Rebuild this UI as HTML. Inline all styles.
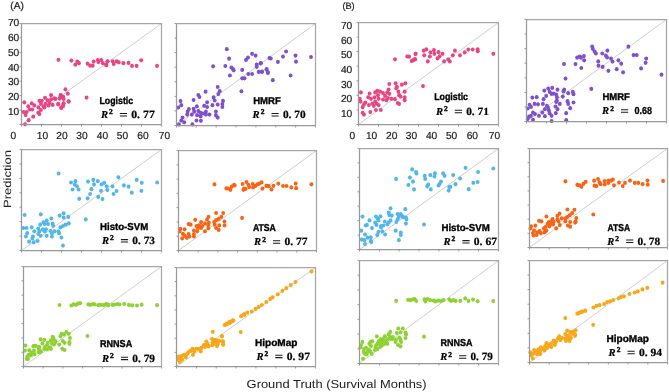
<!DOCTYPE html><html><head><meta charset="utf-8"><style>html,body{margin:0;padding:0;background:#fff;overflow:hidden}svg{display:block;will-change:transform}text{font-family:"Liberation Sans",sans-serif;text-rendering:geometricPrecision}.s{font-family:"Liberation Serif",serif}</style></head><body>
<svg width="669" height="392" viewBox="0 0 669 392">
<rect width="669" height="392" fill="#fff"/>
<line x1="21.5" y1="124.5" x2="161.5" y2="23.5" stroke="#b4b4b4" stroke-width="0.65"/>
<line x1="176.5" y1="125.5" x2="315.5" y2="23.5" stroke="#b4b4b4" stroke-width="0.65"/>
<line x1="21.5" y1="250.5" x2="161.5" y2="149.5" stroke="#b4b4b4" stroke-width="0.65"/>
<line x1="178.5" y1="250.5" x2="316.5" y2="150.5" stroke="#b4b4b4" stroke-width="0.65"/>
<line x1="23.5" y1="366.5" x2="161.5" y2="266.5" stroke="#b4b4b4" stroke-width="0.65"/>
<line x1="176.5" y1="366.5" x2="315.5" y2="267.5" stroke="#b4b4b4" stroke-width="0.65"/>
<line x1="358.5" y1="124.5" x2="498.5" y2="22.5" stroke="#b4b4b4" stroke-width="0.65"/>
<line x1="526.5" y1="121.5" x2="666.5" y2="19.5" stroke="#b4b4b4" stroke-width="0.65"/>
<line x1="359.5" y1="249.5" x2="498.5" y2="148.5" stroke="#b4b4b4" stroke-width="0.65"/>
<line x1="529.5" y1="247.5" x2="667.5" y2="148.5" stroke="#b4b4b4" stroke-width="0.65"/>
<line x1="359.5" y1="363.5" x2="498.5" y2="260.5" stroke="#b4b4b4" stroke-width="0.65"/>
<line x1="529.5" y1="362.5" x2="667.5" y2="260.5" stroke="#b4b4b4" stroke-width="0.65"/>
<g fill="#e84584"><ellipse cx="65.4" cy="89.3" rx="1.95" ry="2.1"/><ellipse cx="67.8" cy="93.7" rx="1.95" ry="2.1"/><ellipse cx="68.5" cy="101.3" rx="1.95" ry="2.1"/><ellipse cx="24.3" cy="102.3" rx="1.95" ry="2.1"/><ellipse cx="60.8" cy="95" rx="1.95" ry="2.1"/><ellipse cx="62.9" cy="97.2" rx="1.95" ry="2.1"/><ellipse cx="59.8" cy="98.3" rx="1.95" ry="2.1"/><ellipse cx="58.3" cy="103.9" rx="1.95" ry="2.1"/><ellipse cx="63.4" cy="103.4" rx="1.95" ry="2.1"/><ellipse cx="62.9" cy="105.9" rx="1.95" ry="2.1"/><ellipse cx="61.3" cy="108" rx="1.95" ry="2.1"/><ellipse cx="51.1" cy="95.2" rx="1.95" ry="2.1"/><ellipse cx="54.2" cy="98.3" rx="1.95" ry="2.1"/><ellipse cx="51.1" cy="99.3" rx="1.95" ry="2.1"/><ellipse cx="45" cy="97.8" rx="1.95" ry="2.1"/><ellipse cx="47.6" cy="100.3" rx="1.95" ry="2.1"/><ellipse cx="39.4" cy="100.8" rx="1.95" ry="2.1"/><ellipse cx="41.9" cy="100.8" rx="1.95" ry="2.1"/><ellipse cx="49.6" cy="102.9" rx="1.95" ry="2.1"/><ellipse cx="52.7" cy="104.9" rx="1.95" ry="2.1"/><ellipse cx="45.5" cy="103.9" rx="1.95" ry="2.1"/><ellipse cx="43.5" cy="106.4" rx="1.95" ry="2.1"/><ellipse cx="40.9" cy="103.9" rx="1.95" ry="2.1"/><ellipse cx="31.7" cy="103.4" rx="1.95" ry="2.1"/><ellipse cx="34.3" cy="105.4" rx="1.95" ry="2.1"/><ellipse cx="28.2" cy="106.4" rx="1.95" ry="2.1"/><ellipse cx="32.2" cy="109.5" rx="1.95" ry="2.1"/><ellipse cx="38.4" cy="107.4" rx="1.95" ry="2.1"/><ellipse cx="40.9" cy="110" rx="1.95" ry="2.1"/><ellipse cx="38.4" cy="112.6" rx="1.95" ry="2.1"/><ellipse cx="39.4" cy="114.1" rx="1.95" ry="2.1"/><ellipse cx="23.6" cy="112" rx="1.95" ry="2.1"/><ellipse cx="26.6" cy="112" rx="1.95" ry="2.1"/><ellipse cx="25.6" cy="115.1" rx="1.95" ry="2.1"/><ellipse cx="29.7" cy="109.5" rx="1.95" ry="2.1"/><ellipse cx="33.3" cy="116.6" rx="1.95" ry="2.1"/><ellipse cx="28.7" cy="120.2" rx="1.95" ry="2.1"/><ellipse cx="25.1" cy="124.3" rx="1.95" ry="2.1"/><ellipse cx="44.5" cy="107.4" rx="1.95" ry="2.1"/><ellipse cx="48.6" cy="105.4" rx="1.95" ry="2.1"/><ellipse cx="58.5" cy="59.8" rx="1.95" ry="2.1"/><ellipse cx="71.4" cy="60.6" rx="1.95" ry="2.1"/><ellipse cx="75.3" cy="64.7" rx="1.95" ry="2.1"/><ellipse cx="77.3" cy="61.6" rx="1.95" ry="2.1"/><ellipse cx="78.9" cy="63.2" rx="1.95" ry="2.1"/><ellipse cx="87.6" cy="63.7" rx="1.95" ry="2.1"/><ellipse cx="90.1" cy="65.7" rx="1.95" ry="2.1"/><ellipse cx="92.7" cy="65.7" rx="1.95" ry="2.1"/><ellipse cx="93.7" cy="61.6" rx="1.95" ry="2.1"/><ellipse cx="97.8" cy="60.1" rx="1.95" ry="2.1"/><ellipse cx="98.3" cy="62.1" rx="1.95" ry="2.1"/><ellipse cx="101.3" cy="60.1" rx="1.95" ry="2.1"/><ellipse cx="102.9" cy="63.2" rx="1.95" ry="2.1"/><ellipse cx="106.4" cy="65.2" rx="1.95" ry="2.1"/><ellipse cx="107.4" cy="61.6" rx="1.95" ry="2.1"/><ellipse cx="106.2" cy="64.9" rx="1.95" ry="2.1"/><ellipse cx="107.6" cy="61.3" rx="1.95" ry="2.1"/><ellipse cx="112.7" cy="61.3" rx="1.95" ry="2.1"/><ellipse cx="113.7" cy="63.9" rx="1.95" ry="2.1"/><ellipse cx="116.7" cy="61.3" rx="1.95" ry="2.1"/><ellipse cx="118.8" cy="62.3" rx="1.95" ry="2.1"/><ellipse cx="123.4" cy="63.2" rx="1.95" ry="2.1"/><ellipse cx="128.5" cy="62.9" rx="1.95" ry="2.1"/><ellipse cx="132" cy="65.9" rx="1.95" ry="2.1"/><ellipse cx="136.6" cy="65.9" rx="1.95" ry="2.1"/><ellipse cx="141.2" cy="60.3" rx="1.95" ry="2.1"/><ellipse cx="157" cy="65.9" rx="1.95" ry="2.1"/><ellipse cx="86.6" cy="97.6" rx="1.95" ry="2.1"/><ellipse cx="60.6" cy="95.3" rx="1.95" ry="2.1"/><ellipse cx="63.2" cy="96.8" rx="1.95" ry="2.1"/><ellipse cx="59.6" cy="98.4" rx="1.95" ry="2.1"/><ellipse cx="63.7" cy="98.9" rx="1.95" ry="2.1"/><ellipse cx="55.5" cy="98.9" rx="1.95" ry="2.1"/><ellipse cx="68.8" cy="101.6" rx="1.95" ry="2.1"/><ellipse cx="58.1" cy="104.3" rx="1.95" ry="2.1"/><ellipse cx="63.7" cy="103.5" rx="1.95" ry="2.1"/><ellipse cx="63.2" cy="106" rx="1.95" ry="2.1"/><ellipse cx="61.1" cy="107.6" rx="1.95" ry="2.1"/></g>
<g fill="#7f50cc"><ellipse cx="217.7" cy="87" rx="1.95" ry="2.1"/><ellipse cx="219.7" cy="91.2" rx="1.95" ry="2.1"/><ellipse cx="218.3" cy="94.1" rx="1.95" ry="2.1"/><ellipse cx="205.6" cy="91.7" rx="1.95" ry="2.1"/><ellipse cx="198.3" cy="95" rx="1.95" ry="2.1"/><ellipse cx="199.5" cy="97" rx="1.95" ry="2.1"/><ellipse cx="213.6" cy="97.4" rx="1.95" ry="2.1"/><ellipse cx="214.7" cy="100.5" rx="1.95" ry="2.1"/><ellipse cx="223" cy="100.9" rx="1.95" ry="2.1"/><ellipse cx="222.4" cy="104.1" rx="1.95" ry="2.1"/><ellipse cx="222.4" cy="107" rx="1.95" ry="2.1"/><ellipse cx="193.6" cy="100" rx="1.95" ry="2.1"/><ellipse cx="180.5" cy="101.1" rx="1.95" ry="2.1"/><ellipse cx="181.3" cy="105.2" rx="1.95" ry="2.1"/><ellipse cx="178.3" cy="107.6" rx="1.95" ry="2.1"/><ellipse cx="207.1" cy="102.3" rx="1.95" ry="2.1"/><ellipse cx="212.4" cy="105.2" rx="1.95" ry="2.1"/><ellipse cx="217.7" cy="104.6" rx="1.95" ry="2.1"/><ellipse cx="204.2" cy="105.8" rx="1.95" ry="2.1"/><ellipse cx="207.1" cy="107" rx="1.95" ry="2.1"/><ellipse cx="196.9" cy="106.4" rx="1.95" ry="2.1"/><ellipse cx="193.6" cy="108.8" rx="1.95" ry="2.1"/><ellipse cx="188.9" cy="109.1" rx="1.95" ry="2.1"/><ellipse cx="194.2" cy="111.7" rx="1.95" ry="2.1"/><ellipse cx="187.7" cy="111.7" rx="1.95" ry="2.1"/><ellipse cx="187.2" cy="114.6" rx="1.95" ry="2.1"/><ellipse cx="191.8" cy="114.6" rx="1.95" ry="2.1"/><ellipse cx="198.3" cy="111.1" rx="1.95" ry="2.1"/><ellipse cx="200.6" cy="112.9" rx="1.95" ry="2.1"/><ellipse cx="203" cy="113.5" rx="1.95" ry="2.1"/><ellipse cx="205.9" cy="111.7" rx="1.95" ry="2.1"/><ellipse cx="205.9" cy="114.6" rx="1.95" ry="2.1"/><ellipse cx="209.5" cy="114.6" rx="1.95" ry="2.1"/><ellipse cx="197.1" cy="115.2" rx="1.95" ry="2.1"/><ellipse cx="200.6" cy="116.4" rx="1.95" ry="2.1"/><ellipse cx="215.9" cy="111.5" rx="1.95" ry="2.1"/><ellipse cx="215.9" cy="115.2" rx="1.95" ry="2.1"/><ellipse cx="217.7" cy="117.6" rx="1.95" ry="2.1"/><ellipse cx="182.5" cy="117.6" rx="1.95" ry="2.1"/><ellipse cx="181.3" cy="120.5" rx="1.95" ry="2.1"/><ellipse cx="184.2" cy="122.3" rx="1.95" ry="2.1"/><ellipse cx="178.9" cy="124.4" rx="1.95" ry="2.1"/><ellipse cx="196.5" cy="120.5" rx="1.95" ry="2.1"/><ellipse cx="200.9" cy="120.8" rx="1.95" ry="2.1"/><ellipse cx="192.4" cy="124.4" rx="1.95" ry="2.1"/><ellipse cx="226.8" cy="49.2" rx="1.95" ry="2.1"/><ellipse cx="229.1" cy="58.7" rx="1.95" ry="2.1"/><ellipse cx="213.1" cy="66.3" rx="1.95" ry="2.1"/><ellipse cx="225.3" cy="66" rx="1.95" ry="2.1"/><ellipse cx="231.4" cy="67.6" rx="1.95" ry="2.1"/><ellipse cx="233" cy="69.1" rx="1.95" ry="2.1"/><ellipse cx="233.7" cy="70.3" rx="1.95" ry="2.1"/><ellipse cx="229.9" cy="75.5" rx="1.95" ry="2.1"/><ellipse cx="242.2" cy="69.9" rx="1.95" ry="2.1"/><ellipse cx="246" cy="59.9" rx="1.95" ry="2.1"/><ellipse cx="248" cy="57.6" rx="1.95" ry="2.1"/><ellipse cx="252.1" cy="53.8" rx="1.95" ry="2.1"/><ellipse cx="255.6" cy="55.6" rx="1.95" ry="2.1"/><ellipse cx="256.7" cy="64.5" rx="1.95" ry="2.1"/><ellipse cx="256.7" cy="66.8" rx="1.95" ry="2.1"/><ellipse cx="260.5" cy="63.3" rx="1.95" ry="2.1"/><ellipse cx="248.3" cy="74" rx="1.95" ry="2.1"/><ellipse cx="252.1" cy="74" rx="1.95" ry="2.1"/><ellipse cx="242.2" cy="78.3" rx="1.95" ry="2.1"/><ellipse cx="244.5" cy="78.3" rx="1.95" ry="2.1"/><ellipse cx="258.7" cy="71.9" rx="1.95" ry="2.1"/><ellipse cx="262.1" cy="71.9" rx="1.95" ry="2.1"/><ellipse cx="266.7" cy="69.1" rx="1.95" ry="2.1"/><ellipse cx="267.9" cy="72.2" rx="1.95" ry="2.1"/><ellipse cx="269.4" cy="58.1" rx="1.95" ry="2.1"/><ellipse cx="241.4" cy="91.3" rx="1.95" ry="2.1"/><ellipse cx="286.1" cy="51.5" rx="1.95" ry="2.1"/><ellipse cx="283" cy="56.6" rx="1.95" ry="2.1"/><ellipse cx="270.8" cy="58.5" rx="1.95" ry="2.1"/><ellipse cx="277.9" cy="61.9" rx="1.95" ry="2.1"/><ellipse cx="295.5" cy="55.6" rx="1.95" ry="2.1"/><ellipse cx="296" cy="61.7" rx="1.95" ry="2.1"/><ellipse cx="311" cy="57" rx="1.95" ry="2.1"/><ellipse cx="261" cy="63.2" rx="1.95" ry="2.1"/><ellipse cx="261.9" cy="71.6" rx="1.95" ry="2.1"/><ellipse cx="266.4" cy="69.6" rx="1.95" ry="2.1"/><ellipse cx="267.9" cy="72.9" rx="1.95" ry="2.1"/><ellipse cx="272.8" cy="80.2" rx="1.95" ry="2.1"/><ellipse cx="290.6" cy="75.5" rx="1.95" ry="2.1"/></g>
<g fill="#52b6ea"><ellipse cx="24.6" cy="215" rx="1.95" ry="2.1"/><ellipse cx="40.8" cy="214.3" rx="1.95" ry="2.1"/><ellipse cx="59.7" cy="215.6" rx="1.95" ry="2.1"/><ellipse cx="63.6" cy="213.3" rx="1.95" ry="2.1"/><ellipse cx="63.6" cy="217.6" rx="1.95" ry="2.1"/><ellipse cx="68.2" cy="216.9" rx="1.95" ry="2.1"/><ellipse cx="51.3" cy="218.5" rx="1.95" ry="2.1"/><ellipse cx="46.7" cy="220.6" rx="1.95" ry="2.1"/><ellipse cx="43.4" cy="222.4" rx="1.95" ry="2.1"/><ellipse cx="48" cy="224.1" rx="1.95" ry="2.1"/><ellipse cx="44.7" cy="224.1" rx="1.95" ry="2.1"/><ellipse cx="40.2" cy="224.7" rx="1.95" ry="2.1"/><ellipse cx="52.6" cy="223.7" rx="1.95" ry="2.1"/><ellipse cx="53.2" cy="225.8" rx="1.95" ry="2.1"/><ellipse cx="68.8" cy="223.4" rx="1.95" ry="2.1"/><ellipse cx="65.6" cy="224.7" rx="1.95" ry="2.1"/><ellipse cx="63" cy="226" rx="1.95" ry="2.1"/><ellipse cx="60.4" cy="227.3" rx="1.95" ry="2.1"/><ellipse cx="23.3" cy="228" rx="1.95" ry="2.1"/><ellipse cx="26.5" cy="228" rx="1.95" ry="2.1"/><ellipse cx="31.7" cy="227.3" rx="1.95" ry="2.1"/><ellipse cx="38.2" cy="228.6" rx="1.95" ry="2.1"/><ellipse cx="42.8" cy="229.3" rx="1.95" ry="2.1"/><ellipse cx="46" cy="229.3" rx="1.95" ry="2.1"/><ellipse cx="34.3" cy="231.3" rx="1.95" ry="2.1"/><ellipse cx="39.5" cy="231.3" rx="1.95" ry="2.1"/><ellipse cx="44.7" cy="231.3" rx="1.95" ry="2.1"/><ellipse cx="50.6" cy="231" rx="1.95" ry="2.1"/><ellipse cx="54.5" cy="231.3" rx="1.95" ry="2.1"/><ellipse cx="58.4" cy="231.3" rx="1.95" ry="2.1"/><ellipse cx="27.2" cy="233.2" rx="1.95" ry="2.1"/><ellipse cx="38.2" cy="234.1" rx="1.95" ry="2.1"/><ellipse cx="51.9" cy="233.6" rx="1.95" ry="2.1"/><ellipse cx="59.1" cy="233.2" rx="1.95" ry="2.1"/><ellipse cx="25.9" cy="236.5" rx="1.95" ry="2.1"/><ellipse cx="33" cy="236.5" rx="1.95" ry="2.1"/><ellipse cx="40.8" cy="235.8" rx="1.95" ry="2.1"/><ellipse cx="46.7" cy="235.8" rx="1.95" ry="2.1"/><ellipse cx="51.9" cy="236.5" rx="1.95" ry="2.1"/><ellipse cx="32.4" cy="238.4" rx="1.95" ry="2.1"/><ellipse cx="61.4" cy="237.5" rx="1.95" ry="2.1"/><ellipse cx="29.1" cy="241.7" rx="1.95" ry="2.1"/><ellipse cx="33.7" cy="242.3" rx="1.95" ry="2.1"/><ellipse cx="37.6" cy="241" rx="1.95" ry="2.1"/><ellipse cx="63" cy="245.6" rx="1.95" ry="2.1"/><ellipse cx="58.6" cy="173.5" rx="1.95" ry="2.1"/><ellipse cx="71" cy="182.5" rx="1.95" ry="2.1"/><ellipse cx="75.4" cy="181.2" rx="1.95" ry="2.1"/><ellipse cx="74.8" cy="184.6" rx="1.95" ry="2.1"/><ellipse cx="77" cy="186.3" rx="1.95" ry="2.1"/><ellipse cx="72.6" cy="189.5" rx="1.95" ry="2.1"/><ellipse cx="78.6" cy="189.5" rx="1.95" ry="2.1"/><ellipse cx="88" cy="181.6" rx="1.95" ry="2.1"/><ellipse cx="93.3" cy="179.9" rx="1.95" ry="2.1"/><ellipse cx="97.8" cy="181.2" rx="1.95" ry="2.1"/><ellipse cx="94" cy="184.4" rx="1.95" ry="2.1"/><ellipse cx="91.4" cy="189.2" rx="1.95" ry="2.1"/><ellipse cx="90.1" cy="194" rx="1.95" ry="2.1"/><ellipse cx="87.6" cy="198.4" rx="1.95" ry="2.1"/><ellipse cx="79.3" cy="198.8" rx="1.95" ry="2.1"/><ellipse cx="101.6" cy="184.4" rx="1.95" ry="2.1"/><ellipse cx="104.2" cy="182.8" rx="1.95" ry="2.1"/><ellipse cx="106.7" cy="186.3" rx="1.95" ry="2.1"/><ellipse cx="112.5" cy="186.3" rx="1.95" ry="2.1"/><ellipse cx="101" cy="190.8" rx="1.95" ry="2.1"/><ellipse cx="107.4" cy="190.1" rx="1.95" ry="2.1"/><ellipse cx="113.5" cy="194" rx="1.95" ry="2.1"/><ellipse cx="98.2" cy="196.9" rx="1.95" ry="2.1"/><ellipse cx="102.5" cy="199.1" rx="1.95" ry="2.1"/><ellipse cx="118.4" cy="177.3" rx="1.95" ry="2.1"/><ellipse cx="116.5" cy="191" rx="1.95" ry="2.1"/><ellipse cx="123.9" cy="185.4" rx="1.95" ry="2.1"/><ellipse cx="128.6" cy="186.7" rx="1.95" ry="2.1"/><ellipse cx="131.8" cy="192.7" rx="1.95" ry="2.1"/><ellipse cx="136.7" cy="179.9" rx="1.95" ry="2.1"/><ellipse cx="141.8" cy="182.8" rx="1.95" ry="2.1"/><ellipse cx="141.4" cy="190.8" rx="1.95" ry="2.1"/><ellipse cx="157.1" cy="182.5" rx="1.95" ry="2.1"/><ellipse cx="85.8" cy="219.4" rx="1.95" ry="2.1"/></g>
<g fill="#f76416"><ellipse cx="216.1" cy="213" rx="1.95" ry="2.1"/><ellipse cx="223.2" cy="213" rx="1.95" ry="2.1"/><ellipse cx="208.5" cy="216.9" rx="1.95" ry="2.1"/><ellipse cx="207" cy="219.5" rx="1.95" ry="2.1"/><ellipse cx="221.3" cy="216.9" rx="1.95" ry="2.1"/><ellipse cx="218.7" cy="218.9" rx="1.95" ry="2.1"/><ellipse cx="216.1" cy="220.2" rx="1.95" ry="2.1"/><ellipse cx="214.1" cy="222.1" rx="1.95" ry="2.1"/><ellipse cx="224.5" cy="221.5" rx="1.95" ry="2.1"/><ellipse cx="224.5" cy="225.4" rx="1.95" ry="2.1"/><ellipse cx="195.2" cy="219.8" rx="1.95" ry="2.1"/><ellipse cx="201.1" cy="222.1" rx="1.95" ry="2.1"/><ellipse cx="208.9" cy="222.8" rx="1.95" ry="2.1"/><ellipse cx="205" cy="223.4" rx="1.95" ry="2.1"/><ellipse cx="188.7" cy="224.1" rx="1.95" ry="2.1"/><ellipse cx="190.7" cy="224.7" rx="1.95" ry="2.1"/><ellipse cx="199.1" cy="225.4" rx="1.95" ry="2.1"/><ellipse cx="202.4" cy="226" rx="1.95" ry="2.1"/><ellipse cx="196.5" cy="226" rx="1.95" ry="2.1"/><ellipse cx="208.3" cy="225.4" rx="1.95" ry="2.1"/><ellipse cx="214.8" cy="224.7" rx="1.95" ry="2.1"/><ellipse cx="219.3" cy="225.4" rx="1.95" ry="2.1"/><ellipse cx="197.8" cy="228" rx="1.95" ry="2.1"/><ellipse cx="201.1" cy="228" rx="1.95" ry="2.1"/><ellipse cx="208.3" cy="228.4" rx="1.95" ry="2.1"/><ellipse cx="216.1" cy="228" rx="1.95" ry="2.1"/><ellipse cx="218.7" cy="229.9" rx="1.95" ry="2.1"/><ellipse cx="180.3" cy="228.9" rx="1.95" ry="2.1"/><ellipse cx="184.6" cy="229.3" rx="1.95" ry="2.1"/><ellipse cx="193.9" cy="230.6" rx="1.95" ry="2.1"/><ellipse cx="197.2" cy="231.3" rx="1.95" ry="2.1"/><ellipse cx="205" cy="231.3" rx="1.95" ry="2.1"/><ellipse cx="179.6" cy="231.5" rx="1.95" ry="2.1"/><ellipse cx="182.9" cy="233.9" rx="1.95" ry="2.1"/><ellipse cx="188.7" cy="234.1" rx="1.95" ry="2.1"/><ellipse cx="193.9" cy="234.1" rx="1.95" ry="2.1"/><ellipse cx="184.8" cy="235.8" rx="1.95" ry="2.1"/><ellipse cx="189.4" cy="236.5" rx="1.95" ry="2.1"/><ellipse cx="193.9" cy="236.5" rx="1.95" ry="2.1"/><ellipse cx="182.2" cy="238.4" rx="1.95" ry="2.1"/><ellipse cx="186.8" cy="237.8" rx="1.95" ry="2.1"/><ellipse cx="199.1" cy="227.3" rx="1.95" ry="2.1"/><ellipse cx="214.5" cy="184.4" rx="1.95" ry="2.1"/><ellipse cx="226.3" cy="188.3" rx="1.95" ry="2.1"/><ellipse cx="228.2" cy="188.6" rx="1.95" ry="2.1"/><ellipse cx="230.5" cy="189.8" rx="1.95" ry="2.1"/><ellipse cx="231.7" cy="186.7" rx="1.95" ry="2.1"/><ellipse cx="234" cy="184.8" rx="1.95" ry="2.1"/><ellipse cx="234.8" cy="185.5" rx="1.95" ry="2.1"/><ellipse cx="242.6" cy="184" rx="1.95" ry="2.1"/><ellipse cx="246.5" cy="182" rx="1.95" ry="2.1"/><ellipse cx="244.1" cy="188.6" rx="1.95" ry="2.1"/><ellipse cx="243.4" cy="189.8" rx="1.95" ry="2.1"/><ellipse cx="245.7" cy="189" rx="1.95" ry="2.1"/><ellipse cx="249.2" cy="187.1" rx="1.95" ry="2.1"/><ellipse cx="248.4" cy="184.8" rx="1.95" ry="2.1"/><ellipse cx="252.7" cy="184" rx="1.95" ry="2.1"/><ellipse cx="253.1" cy="187.5" rx="1.95" ry="2.1"/><ellipse cx="255.4" cy="185.9" rx="1.95" ry="2.1"/><ellipse cx="257.3" cy="184.4" rx="1.95" ry="2.1"/><ellipse cx="259.3" cy="183.6" rx="1.95" ry="2.1"/><ellipse cx="261.6" cy="182.4" rx="1.95" ry="2.1"/><ellipse cx="262.4" cy="188.6" rx="1.95" ry="2.1"/><ellipse cx="266.3" cy="185.9" rx="1.95" ry="2.1"/><ellipse cx="267.6" cy="185.8" rx="1.95" ry="2.1"/><ellipse cx="268.8" cy="186.2" rx="1.95" ry="2.1"/><ellipse cx="271.5" cy="189.4" rx="1.95" ry="2.1"/><ellipse cx="273.5" cy="185.8" rx="1.95" ry="2.1"/><ellipse cx="278.3" cy="183.6" rx="1.95" ry="2.1"/><ellipse cx="283" cy="186" rx="1.95" ry="2.1"/><ellipse cx="286.6" cy="186" rx="1.95" ry="2.1"/><ellipse cx="291.3" cy="187.4" rx="1.95" ry="2.1"/><ellipse cx="295.7" cy="183.6" rx="1.95" ry="2.1"/><ellipse cx="296.1" cy="188.2" rx="1.95" ry="2.1"/><ellipse cx="311.4" cy="184.3" rx="1.95" ry="2.1"/><ellipse cx="242.1" cy="217.9" rx="1.95" ry="2.1"/></g>
<g fill="#8dd232"><ellipse cx="66.4" cy="332" rx="1.95" ry="2.1"/><ellipse cx="68.8" cy="333.8" rx="1.95" ry="2.1"/><ellipse cx="61.6" cy="333.8" rx="1.95" ry="2.1"/><ellipse cx="64" cy="334.4" rx="1.95" ry="2.1"/><ellipse cx="60.4" cy="336.2" rx="1.95" ry="2.1"/><ellipse cx="70" cy="338" rx="1.95" ry="2.1"/><ellipse cx="52.6" cy="336.8" rx="1.95" ry="2.1"/><ellipse cx="53.2" cy="339.2" rx="1.95" ry="2.1"/><ellipse cx="40.6" cy="339.4" rx="1.95" ry="2.1"/><ellipse cx="44.2" cy="339.8" rx="1.95" ry="2.1"/><ellipse cx="50.8" cy="340.4" rx="1.95" ry="2.1"/><ellipse cx="62.8" cy="341" rx="1.95" ry="2.1"/><ellipse cx="64.6" cy="342.8" rx="1.95" ry="2.1"/><ellipse cx="69.4" cy="342.2" rx="1.95" ry="2.1"/><ellipse cx="69.4" cy="343.8" rx="1.95" ry="2.1"/><ellipse cx="47.8" cy="342.8" rx="1.95" ry="2.1"/><ellipse cx="52" cy="343.4" rx="1.95" ry="2.1"/><ellipse cx="55" cy="342.8" rx="1.95" ry="2.1"/><ellipse cx="42.4" cy="343.4" rx="1.95" ry="2.1"/><ellipse cx="59.2" cy="344.6" rx="1.95" ry="2.1"/><ellipse cx="25.6" cy="345.5" rx="1.95" ry="2.1"/><ellipse cx="33.4" cy="346.2" rx="1.95" ry="2.1"/><ellipse cx="35.4" cy="345.8" rx="1.95" ry="2.1"/><ellipse cx="39.4" cy="347" rx="1.95" ry="2.1"/><ellipse cx="44.8" cy="347" rx="1.95" ry="2.1"/><ellipse cx="50.2" cy="347.6" rx="1.95" ry="2.1"/><ellipse cx="47.2" cy="349.4" rx="1.95" ry="2.1"/><ellipse cx="38.8" cy="348.8" rx="1.95" ry="2.1"/><ellipse cx="40" cy="351.2" rx="1.95" ry="2.1"/><ellipse cx="44.2" cy="348.8" rx="1.95" ry="2.1"/><ellipse cx="62.2" cy="348.8" rx="1.95" ry="2.1"/><ellipse cx="64.6" cy="350" rx="1.95" ry="2.1"/><ellipse cx="25" cy="350.6" rx="1.95" ry="2.1"/><ellipse cx="29.2" cy="350.3" rx="1.95" ry="2.1"/><ellipse cx="34" cy="350.6" rx="1.95" ry="2.1"/><ellipse cx="31.6" cy="352.7" rx="1.95" ry="2.1"/><ellipse cx="34.6" cy="354.2" rx="1.95" ry="2.1"/><ellipse cx="39.4" cy="352.4" rx="1.95" ry="2.1"/><ellipse cx="28.6" cy="354.8" rx="1.95" ry="2.1"/><ellipse cx="27.4" cy="357.2" rx="1.95" ry="2.1"/><ellipse cx="26.8" cy="359" rx="1.95" ry="2.1"/><ellipse cx="31" cy="355.4" rx="1.95" ry="2.1"/><ellipse cx="87.5" cy="336" rx="1.95" ry="2.1"/><ellipse cx="38.5" cy="347" rx="1.95" ry="2.1"/><ellipse cx="41" cy="351.5" rx="1.95" ry="2.1"/><ellipse cx="38.5" cy="352" rx="1.95" ry="2.1"/><ellipse cx="47" cy="345" rx="1.95" ry="2.1"/><ellipse cx="49.5" cy="347.5" rx="1.95" ry="2.1"/><ellipse cx="51" cy="349" rx="1.95" ry="2.1"/><ellipse cx="53.5" cy="338" rx="1.95" ry="2.1"/><ellipse cx="55.5" cy="341" rx="1.95" ry="2.1"/><ellipse cx="54" cy="344.5" rx="1.95" ry="2.1"/><ellipse cx="27.5" cy="356.5" rx="1.95" ry="2.1"/><ellipse cx="30" cy="354.5" rx="1.95" ry="2.1"/><ellipse cx="28" cy="359" rx="1.95" ry="2.1"/><ellipse cx="59.5" cy="305" rx="1.95" ry="2.1"/><ellipse cx="71.4" cy="305.5" rx="1.95" ry="2.1"/><ellipse cx="73.5" cy="304.4" rx="1.95" ry="2.1"/><ellipse cx="76" cy="304.8" rx="1.95" ry="2.1"/><ellipse cx="78" cy="303.6" rx="1.95" ry="2.1"/><ellipse cx="80.1" cy="303.2" rx="1.95" ry="2.1"/><ellipse cx="88.3" cy="304.4" rx="1.95" ry="2.1"/><ellipse cx="90.4" cy="304.8" rx="1.95" ry="2.1"/><ellipse cx="92.8" cy="304" rx="1.95" ry="2.1"/><ellipse cx="94.5" cy="304.4" rx="1.95" ry="2.1"/><ellipse cx="98.2" cy="305.2" rx="1.95" ry="2.1"/><ellipse cx="100.6" cy="304.8" rx="1.95" ry="2.1"/><ellipse cx="103.5" cy="305.2" rx="1.95" ry="2.1"/><ellipse cx="106" cy="304.4" rx="1.95" ry="2.1"/><ellipse cx="108.5" cy="304.8" rx="1.95" ry="2.1"/><ellipse cx="106.3" cy="304" rx="1.95" ry="2.1"/><ellipse cx="108.4" cy="305.3" rx="1.95" ry="2.1"/><ellipse cx="112.7" cy="304.9" rx="1.95" ry="2.1"/><ellipse cx="114.8" cy="304.5" rx="1.95" ry="2.1"/><ellipse cx="117.4" cy="304" rx="1.95" ry="2.1"/><ellipse cx="119.5" cy="304.5" rx="1.95" ry="2.1"/><ellipse cx="124.2" cy="304" rx="1.95" ry="2.1"/><ellipse cx="128.9" cy="304.9" rx="1.95" ry="2.1"/><ellipse cx="132.3" cy="305.3" rx="1.95" ry="2.1"/><ellipse cx="137" cy="305.5" rx="1.95" ry="2.1"/><ellipse cx="141.6" cy="304.7" rx="1.95" ry="2.1"/><ellipse cx="157.1" cy="305.2" rx="1.95" ry="2.1"/></g>
<g fill="#f7a718"><ellipse cx="225.4" cy="324.8" rx="1.95" ry="2.1"/><ellipse cx="227.8" cy="323.6" rx="1.95" ry="2.1"/><ellipse cx="230.2" cy="322.4" rx="1.95" ry="2.1"/><ellipse cx="232.6" cy="321.2" rx="1.95" ry="2.1"/><ellipse cx="212.8" cy="331.8" rx="1.95" ry="2.1"/><ellipse cx="221.8" cy="336.2" rx="1.95" ry="2.1"/><ellipse cx="214.6" cy="339.8" rx="1.95" ry="2.1"/><ellipse cx="217" cy="340.4" rx="1.95" ry="2.1"/><ellipse cx="219.4" cy="341" rx="1.95" ry="2.1"/><ellipse cx="212.8" cy="342.2" rx="1.95" ry="2.1"/><ellipse cx="215.2" cy="343.4" rx="1.95" ry="2.1"/><ellipse cx="217.6" cy="344" rx="1.95" ry="2.1"/><ellipse cx="223" cy="341.6" rx="1.95" ry="2.1"/><ellipse cx="223" cy="344.6" rx="1.95" ry="2.1"/><ellipse cx="212.2" cy="345.2" rx="1.95" ry="2.1"/><ellipse cx="206.2" cy="341.6" rx="1.95" ry="2.1"/><ellipse cx="206.8" cy="344" rx="1.95" ry="2.1"/><ellipse cx="203.8" cy="345.2" rx="1.95" ry="2.1"/><ellipse cx="208.6" cy="346.4" rx="1.95" ry="2.1"/><ellipse cx="205" cy="347" rx="1.95" ry="2.1"/><ellipse cx="201.4" cy="347.9" rx="1.95" ry="2.1"/><ellipse cx="198.4" cy="348.8" rx="1.95" ry="2.1"/><ellipse cx="196" cy="348.8" rx="1.95" ry="2.1"/><ellipse cx="192.4" cy="348.8" rx="1.95" ry="2.1"/><ellipse cx="191.2" cy="350.6" rx="1.95" ry="2.1"/><ellipse cx="194.2" cy="351.2" rx="1.95" ry="2.1"/><ellipse cx="200.8" cy="351.5" rx="1.95" ry="2.1"/><ellipse cx="188.2" cy="352.4" rx="1.95" ry="2.1"/><ellipse cx="187" cy="354.2" rx="1.95" ry="2.1"/><ellipse cx="193" cy="354.8" rx="1.95" ry="2.1"/><ellipse cx="184" cy="354.8" rx="1.95" ry="2.1"/><ellipse cx="181.6" cy="356" rx="1.95" ry="2.1"/><ellipse cx="178.6" cy="356.6" rx="1.95" ry="2.1"/><ellipse cx="180.4" cy="358.4" rx="1.95" ry="2.1"/><ellipse cx="178" cy="359.6" rx="1.95" ry="2.1"/><ellipse cx="182.2" cy="359.6" rx="1.95" ry="2.1"/><ellipse cx="179.8" cy="362" rx="1.95" ry="2.1"/><ellipse cx="185.8" cy="357.2" rx="1.95" ry="2.1"/><ellipse cx="311.5" cy="271.4" rx="1.95" ry="2.1"/><ellipse cx="295.4" cy="282.1" rx="1.95" ry="2.1"/><ellipse cx="290.8" cy="285.1" rx="1.95" ry="2.1"/><ellipse cx="286.3" cy="288.2" rx="1.95" ry="2.1"/><ellipse cx="282.4" cy="290.8" rx="1.95" ry="2.1"/><ellipse cx="277.8" cy="294.3" rx="1.95" ry="2.1"/><ellipse cx="272.5" cy="297.4" rx="1.95" ry="2.1"/><ellipse cx="270.2" cy="298.9" rx="1.95" ry="2.1"/><ellipse cx="266.3" cy="302" rx="1.95" ry="2.1"/><ellipse cx="261.8" cy="305" rx="1.95" ry="2.1"/><ellipse cx="258.7" cy="307" rx="1.95" ry="2.1"/><ellipse cx="255.6" cy="308.9" rx="1.95" ry="2.1"/><ellipse cx="251.8" cy="311.6" rx="1.95" ry="2.1"/><ellipse cx="247.2" cy="312.7" rx="1.95" ry="2.1"/><ellipse cx="244.1" cy="314.2" rx="1.95" ry="2.1"/><ellipse cx="241.1" cy="316.2" rx="1.95" ry="2.1"/><ellipse cx="232.7" cy="320.4" rx="1.95" ry="2.1"/><ellipse cx="229.6" cy="321.9" rx="1.95" ry="2.1"/><ellipse cx="226.5" cy="323.9" rx="1.95" ry="2.1"/><ellipse cx="240.7" cy="332.1" rx="1.95" ry="2.1"/><ellipse cx="224.6" cy="325" rx="1.95" ry="2.1"/><ellipse cx="226.9" cy="323.9" rx="1.95" ry="2.1"/><ellipse cx="229.1" cy="322.9" rx="1.95" ry="2.1"/><ellipse cx="231.3" cy="321.7" rx="1.95" ry="2.1"/><ellipse cx="233.4" cy="320.5" rx="1.95" ry="2.1"/><ellipse cx="244.3" cy="315" rx="1.95" ry="2.1"/><ellipse cx="213.9" cy="340" rx="1.95" ry="2.1"/><ellipse cx="216.6" cy="340.9" rx="1.95" ry="2.1"/><ellipse cx="218.4" cy="341.8" rx="1.95" ry="2.1"/><ellipse cx="222.9" cy="341.3" rx="1.95" ry="2.1"/><ellipse cx="223.3" cy="344.5" rx="1.95" ry="2.1"/><ellipse cx="214.8" cy="343.6" rx="1.95" ry="2.1"/><ellipse cx="217.5" cy="344.5" rx="1.95" ry="2.1"/><ellipse cx="206.8" cy="342.7" rx="1.95" ry="2.1"/><ellipse cx="208.1" cy="345.8" rx="1.95" ry="2.1"/><ellipse cx="222" cy="336.3" rx="1.95" ry="2.1"/><ellipse cx="214" cy="343" rx="1.95" ry="2.1"/><ellipse cx="217" cy="346" rx="1.95" ry="2.1"/><ellipse cx="212" cy="339" rx="1.95" ry="2.1"/><ellipse cx="193" cy="350" rx="1.95" ry="2.1"/><ellipse cx="190" cy="351" rx="1.95" ry="2.1"/></g>
<g fill="#e84584"><ellipse cx="389.3" cy="84" rx="1.95" ry="2.1"/><ellipse cx="395.6" cy="83.3" rx="1.95" ry="2.1"/><ellipse cx="401.9" cy="84.7" rx="1.95" ry="2.1"/><ellipse cx="405.4" cy="83.3" rx="1.95" ry="2.1"/><ellipse cx="397" cy="86.8" rx="1.95" ry="2.1"/><ellipse cx="396.3" cy="88.2" rx="1.95" ry="2.1"/><ellipse cx="388.6" cy="89.6" rx="1.95" ry="2.1"/><ellipse cx="377.3" cy="90.8" rx="1.95" ry="2.1"/><ellipse cx="375.2" cy="92.4" rx="1.95" ry="2.1"/><ellipse cx="380.1" cy="91.7" rx="1.95" ry="2.1"/><ellipse cx="383" cy="93.1" rx="1.95" ry="2.1"/><ellipse cx="387.2" cy="92.4" rx="1.95" ry="2.1"/><ellipse cx="389.3" cy="93.8" rx="1.95" ry="2.1"/><ellipse cx="398.4" cy="91.7" rx="1.95" ry="2.1"/><ellipse cx="404.7" cy="91.7" rx="1.95" ry="2.1"/><ellipse cx="360.9" cy="92.4" rx="1.95" ry="2.1"/><ellipse cx="369.6" cy="93.6" rx="1.95" ry="2.1"/><ellipse cx="399.1" cy="95.2" rx="1.95" ry="2.1"/><ellipse cx="400.5" cy="96.6" rx="1.95" ry="2.1"/><ellipse cx="378" cy="95.2" rx="1.95" ry="2.1"/><ellipse cx="385" cy="95.9" rx="1.95" ry="2.1"/><ellipse cx="368.2" cy="97.3" rx="1.95" ry="2.1"/><ellipse cx="371" cy="98.8" rx="1.95" ry="2.1"/><ellipse cx="374.5" cy="97.3" rx="1.95" ry="2.1"/><ellipse cx="387.9" cy="98" rx="1.95" ry="2.1"/><ellipse cx="391.4" cy="98.8" rx="1.95" ry="2.1"/><ellipse cx="394.9" cy="99.2" rx="1.95" ry="2.1"/><ellipse cx="378.7" cy="98.8" rx="1.95" ry="2.1"/><ellipse cx="383" cy="99.5" rx="1.95" ry="2.1"/><ellipse cx="404.7" cy="97.3" rx="1.95" ry="2.1"/><ellipse cx="404.7" cy="100.2" rx="1.95" ry="2.1"/><ellipse cx="359.8" cy="98.8" rx="1.95" ry="2.1"/><ellipse cx="360.5" cy="101.6" rx="1.95" ry="2.1"/><ellipse cx="375.2" cy="101.6" rx="1.95" ry="2.1"/><ellipse cx="386.5" cy="100.2" rx="1.95" ry="2.1"/><ellipse cx="365.4" cy="102.5" rx="1.95" ry="2.1"/><ellipse cx="372.4" cy="103.7" rx="1.95" ry="2.1"/><ellipse cx="376.6" cy="103.7" rx="1.95" ry="2.1"/><ellipse cx="397.7" cy="103" rx="1.95" ry="2.1"/><ellipse cx="399.1" cy="103.9" rx="1.95" ry="2.1"/><ellipse cx="364" cy="104.4" rx="1.95" ry="2.1"/><ellipse cx="368.9" cy="105.1" rx="1.95" ry="2.1"/><ellipse cx="373.8" cy="105.8" rx="1.95" ry="2.1"/><ellipse cx="378.7" cy="105.1" rx="1.95" ry="2.1"/><ellipse cx="362.6" cy="107.2" rx="1.95" ry="2.1"/><ellipse cx="375.9" cy="110" rx="1.95" ry="2.1"/><ellipse cx="380.8" cy="110" rx="1.95" ry="2.1"/><ellipse cx="362.6" cy="112.8" rx="1.95" ry="2.1"/><ellipse cx="364" cy="114.6" rx="1.95" ry="2.1"/><ellipse cx="370.3" cy="112.1" rx="1.95" ry="2.1"/><ellipse cx="415.6" cy="53.8" rx="1.95" ry="2.1"/><ellipse cx="413" cy="60.4" rx="1.95" ry="2.1"/><ellipse cx="415.1" cy="59.4" rx="1.95" ry="2.1"/><ellipse cx="423.7" cy="50.7" rx="1.95" ry="2.1"/><ellipse cx="426.3" cy="49.4" rx="1.95" ry="2.1"/><ellipse cx="424.2" cy="55.3" rx="1.95" ry="2.1"/><ellipse cx="430.4" cy="52.4" rx="1.95" ry="2.1"/><ellipse cx="429.9" cy="56.5" rx="1.95" ry="2.1"/><ellipse cx="427.8" cy="61.4" rx="1.95" ry="2.1"/><ellipse cx="433.9" cy="50.2" rx="1.95" ry="2.1"/><ellipse cx="434.4" cy="53.8" rx="1.95" ry="2.1"/><ellipse cx="438.5" cy="52.2" rx="1.95" ry="2.1"/><ellipse cx="442.6" cy="53.8" rx="1.95" ry="2.1"/><ellipse cx="439.6" cy="56.3" rx="1.95" ry="2.1"/><ellipse cx="437.5" cy="58.4" rx="1.95" ry="2.1"/><ellipse cx="444.1" cy="61.4" rx="1.95" ry="2.1"/><ellipse cx="448.2" cy="59.4" rx="1.95" ry="2.1"/><ellipse cx="449.8" cy="61.4" rx="1.95" ry="2.1"/><ellipse cx="452.8" cy="55.3" rx="1.95" ry="2.1"/><ellipse cx="454.9" cy="50.7" rx="1.95" ry="2.1"/><ellipse cx="460" cy="55.3" rx="1.95" ry="2.1"/><ellipse cx="395" cy="59.3" rx="1.95" ry="2.1"/><ellipse cx="407.2" cy="56.5" rx="1.95" ry="2.1"/><ellipse cx="409.1" cy="56.7" rx="1.95" ry="2.1"/><ellipse cx="411.6" cy="61" rx="1.95" ry="2.1"/><ellipse cx="414.8" cy="59" rx="1.95" ry="2.1"/><ellipse cx="415.5" cy="53.9" rx="1.95" ry="2.1"/><ellipse cx="464.7" cy="52.4" rx="1.95" ry="2.1"/><ellipse cx="468.3" cy="49.5" rx="1.95" ry="2.1"/><ellipse cx="472.7" cy="49.5" rx="1.95" ry="2.1"/><ellipse cx="477.7" cy="49.3" rx="1.95" ry="2.1"/><ellipse cx="477.8" cy="51.3" rx="1.95" ry="2.1"/><ellipse cx="493.3" cy="53.8" rx="1.95" ry="2.1"/><ellipse cx="423" cy="86.1" rx="1.95" ry="2.1"/></g>
<g fill="#7f50cc"><ellipse cx="565.5" cy="78.6" rx="1.95" ry="2.1"/><ellipse cx="552.2" cy="87.9" rx="1.95" ry="2.1"/><ellipse cx="548.2" cy="88.6" rx="1.95" ry="2.1"/><ellipse cx="544.3" cy="90.6" rx="1.95" ry="2.1"/><ellipse cx="557.5" cy="89.7" rx="1.95" ry="2.1"/><ellipse cx="564.2" cy="89.7" rx="1.95" ry="2.1"/><ellipse cx="563.5" cy="91.5" rx="1.95" ry="2.1"/><ellipse cx="549.6" cy="91.9" rx="1.95" ry="2.1"/><ellipse cx="551.6" cy="93.9" rx="1.95" ry="2.1"/><ellipse cx="553.6" cy="93.6" rx="1.95" ry="2.1"/><ellipse cx="556.2" cy="94.6" rx="1.95" ry="2.1"/><ellipse cx="568.2" cy="93.2" rx="1.95" ry="2.1"/><ellipse cx="572.8" cy="91.9" rx="1.95" ry="2.1"/><ellipse cx="573.5" cy="94.2" rx="1.95" ry="2.1"/><ellipse cx="546.2" cy="95.9" rx="1.95" ry="2.1"/><ellipse cx="556.9" cy="97.2" rx="1.95" ry="2.1"/><ellipse cx="562.8" cy="96.6" rx="1.95" ry="2.1"/><ellipse cx="532.3" cy="97.6" rx="1.95" ry="2.1"/><ellipse cx="536.7" cy="97.2" rx="1.95" ry="2.1"/><ellipse cx="543.6" cy="99.2" rx="1.95" ry="2.1"/><ellipse cx="556.9" cy="100.5" rx="1.95" ry="2.1"/><ellipse cx="567.5" cy="101.2" rx="1.95" ry="2.1"/><ellipse cx="568.2" cy="103.9" rx="1.95" ry="2.1"/><ellipse cx="573.5" cy="102.5" rx="1.95" ry="2.1"/><ellipse cx="556.2" cy="101.9" rx="1.95" ry="2.1"/><ellipse cx="542.9" cy="103.9" rx="1.95" ry="2.1"/><ellipse cx="534.6" cy="103.9" rx="1.95" ry="2.1"/><ellipse cx="538" cy="104.3" rx="1.95" ry="2.1"/><ellipse cx="559.8" cy="103.9" rx="1.95" ry="2.1"/><ellipse cx="529.6" cy="104.8" rx="1.95" ry="2.1"/><ellipse cx="531" cy="106.9" rx="1.95" ry="2.1"/><ellipse cx="527.7" cy="108.5" rx="1.95" ry="2.1"/><ellipse cx="546.9" cy="105.9" rx="1.95" ry="2.1"/><ellipse cx="548.2" cy="107.8" rx="1.95" ry="2.1"/><ellipse cx="555.5" cy="106.5" rx="1.95" ry="2.1"/><ellipse cx="557.5" cy="109.2" rx="1.95" ry="2.1"/><ellipse cx="544.9" cy="109.2" rx="1.95" ry="2.1"/><ellipse cx="548.9" cy="110.5" rx="1.95" ry="2.1"/><ellipse cx="570.2" cy="108.2" rx="1.95" ry="2.1"/><ellipse cx="533" cy="112.5" rx="1.95" ry="2.1"/><ellipse cx="535" cy="114.1" rx="1.95" ry="2.1"/><ellipse cx="542.3" cy="112.5" rx="1.95" ry="2.1"/><ellipse cx="549.6" cy="113.2" rx="1.95" ry="2.1"/><ellipse cx="555.8" cy="113.2" rx="1.95" ry="2.1"/><ellipse cx="566.2" cy="113.2" rx="1.95" ry="2.1"/><ellipse cx="539" cy="115.8" rx="1.95" ry="2.1"/><ellipse cx="544.9" cy="116.2" rx="1.95" ry="2.1"/><ellipse cx="551.6" cy="115.8" rx="1.95" ry="2.1"/><ellipse cx="529" cy="116.7" rx="1.95" ry="2.1"/><ellipse cx="531" cy="115.8" rx="1.95" ry="2.1"/><ellipse cx="527.7" cy="118.9" rx="1.95" ry="2.1"/><ellipse cx="533" cy="119.8" rx="1.95" ry="2.1"/><ellipse cx="566.2" cy="120.2" rx="1.95" ry="2.1"/><ellipse cx="551.6" cy="121.1" rx="1.95" ry="2.1"/><ellipse cx="592.2" cy="46.5" rx="1.95" ry="2.1"/><ellipse cx="592.8" cy="48.8" rx="1.95" ry="2.1"/><ellipse cx="594.6" cy="51.6" rx="1.95" ry="2.1"/><ellipse cx="595.9" cy="53.5" rx="1.95" ry="2.1"/><ellipse cx="577.1" cy="57.7" rx="1.95" ry="2.1"/><ellipse cx="579.7" cy="56.7" rx="1.95" ry="2.1"/><ellipse cx="581" cy="57.7" rx="1.95" ry="2.1"/><ellipse cx="583.9" cy="56.1" rx="1.95" ry="2.1"/><ellipse cx="584.2" cy="60.3" rx="1.95" ry="2.1"/><ellipse cx="575.5" cy="64.1" rx="1.95" ry="2.1"/><ellipse cx="581.3" cy="68" rx="1.95" ry="2.1"/><ellipse cx="602.3" cy="53.5" rx="1.95" ry="2.1"/><ellipse cx="607.4" cy="50.6" rx="1.95" ry="2.1"/><ellipse cx="605.9" cy="55.7" rx="1.95" ry="2.1"/><ellipse cx="607.1" cy="57.4" rx="1.95" ry="2.1"/><ellipse cx="611" cy="58.6" rx="1.95" ry="2.1"/><ellipse cx="612.5" cy="61.6" rx="1.95" ry="2.1"/><ellipse cx="598.2" cy="61.4" rx="1.95" ry="2.1"/><ellipse cx="598.5" cy="65.7" rx="1.95" ry="2.1"/><ellipse cx="602.7" cy="66.9" rx="1.95" ry="2.1"/><ellipse cx="608.4" cy="70.8" rx="1.95" ry="2.1"/><ellipse cx="618.4" cy="60.3" rx="1.95" ry="2.1"/><ellipse cx="621.2" cy="63.7" rx="1.95" ry="2.1"/><ellipse cx="616.7" cy="69.2" rx="1.95" ry="2.1"/><ellipse cx="623.1" cy="72.3" rx="1.95" ry="2.1"/><ellipse cx="628.4" cy="46.7" rx="1.95" ry="2.1"/><ellipse cx="633.5" cy="55.1" rx="1.95" ry="2.1"/><ellipse cx="636.7" cy="55.1" rx="1.95" ry="2.1"/><ellipse cx="646.2" cy="58.6" rx="1.95" ry="2.1"/><ellipse cx="645.6" cy="62.8" rx="1.95" ry="2.1"/><ellipse cx="641.1" cy="68.4" rx="1.95" ry="2.1"/><ellipse cx="661.5" cy="74.7" rx="1.95" ry="2.1"/><ellipse cx="591.3" cy="88.9" rx="1.95" ry="2.1"/><ellipse cx="564" cy="64" rx="1.95" ry="2.1"/></g>
<g fill="#52b6ea"><ellipse cx="390.6" cy="208.3" rx="1.95" ry="2.1"/><ellipse cx="405.3" cy="209.2" rx="1.95" ry="2.1"/><ellipse cx="388.7" cy="212.5" rx="1.95" ry="2.1"/><ellipse cx="389.3" cy="215.1" rx="1.95" ry="2.1"/><ellipse cx="391.8" cy="215.6" rx="1.95" ry="2.1"/><ellipse cx="397.6" cy="214" rx="1.95" ry="2.1"/><ellipse cx="400.8" cy="214.3" rx="1.95" ry="2.1"/><ellipse cx="398.9" cy="216.9" rx="1.95" ry="2.1"/><ellipse cx="402.7" cy="216.6" rx="1.95" ry="2.1"/><ellipse cx="405.9" cy="217.6" rx="1.95" ry="2.1"/><ellipse cx="406.5" cy="219.4" rx="1.95" ry="2.1"/><ellipse cx="362.5" cy="216.6" rx="1.95" ry="2.1"/><ellipse cx="375.9" cy="216.6" rx="1.95" ry="2.1"/><ellipse cx="380.4" cy="216.3" rx="1.95" ry="2.1"/><ellipse cx="377.8" cy="218.5" rx="1.95" ry="2.1"/><ellipse cx="378.4" cy="220.4" rx="1.95" ry="2.1"/><ellipse cx="369.5" cy="220.4" rx="1.95" ry="2.1"/><ellipse cx="397.6" cy="219.2" rx="1.95" ry="2.1"/><ellipse cx="396.3" cy="222" rx="1.95" ry="2.1"/><ellipse cx="390.6" cy="220.4" rx="1.95" ry="2.1"/><ellipse cx="388.7" cy="222.4" rx="1.95" ry="2.1"/><ellipse cx="384.8" cy="221.5" rx="1.95" ry="2.1"/><ellipse cx="375.2" cy="222.7" rx="1.95" ry="2.1"/><ellipse cx="376.5" cy="224.9" rx="1.95" ry="2.1"/><ellipse cx="366.9" cy="224.9" rx="1.95" ry="2.1"/><ellipse cx="365.7" cy="225.5" rx="1.95" ry="2.1"/><ellipse cx="381" cy="226.2" rx="1.95" ry="2.1"/><ellipse cx="383.5" cy="225.5" rx="1.95" ry="2.1"/><ellipse cx="387.4" cy="224.3" rx="1.95" ry="2.1"/><ellipse cx="405.9" cy="223.6" rx="1.95" ry="2.1"/><ellipse cx="372" cy="228.1" rx="1.95" ry="2.1"/><ellipse cx="381" cy="227.5" rx="1.95" ry="2.1"/><ellipse cx="361.2" cy="230.7" rx="1.95" ry="2.1"/><ellipse cx="378.4" cy="231.9" rx="1.95" ry="2.1"/><ellipse cx="382.3" cy="231.3" rx="1.95" ry="2.1"/><ellipse cx="395.7" cy="230.7" rx="1.95" ry="2.1"/><ellipse cx="400.8" cy="232.6" rx="1.95" ry="2.1"/><ellipse cx="400.8" cy="235.1" rx="1.95" ry="2.1"/><ellipse cx="365" cy="234.5" rx="1.95" ry="2.1"/><ellipse cx="377.2" cy="235.1" rx="1.95" ry="2.1"/><ellipse cx="385.1" cy="234.5" rx="1.95" ry="2.1"/><ellipse cx="370.8" cy="237.3" rx="1.95" ry="2.1"/><ellipse cx="367.6" cy="237.7" rx="1.95" ry="2.1"/><ellipse cx="361.8" cy="239.6" rx="1.95" ry="2.1"/><ellipse cx="364.4" cy="240.2" rx="1.95" ry="2.1"/><ellipse cx="370.8" cy="240.9" rx="1.95" ry="2.1"/><ellipse cx="398.9" cy="240.2" rx="1.95" ry="2.1"/><ellipse cx="371.4" cy="242.1" rx="1.95" ry="2.1"/><ellipse cx="365" cy="244.1" rx="1.95" ry="2.1"/><ellipse cx="403.1" cy="217.3" rx="1.95" ry="2.1"/><ellipse cx="400.5" cy="214.3" rx="1.95" ry="2.1"/><ellipse cx="424" cy="224.5" rx="1.95" ry="2.1"/><ellipse cx="396.1" cy="178.9" rx="1.95" ry="2.1"/><ellipse cx="412.2" cy="169.4" rx="1.95" ry="2.1"/><ellipse cx="416" cy="172" rx="1.95" ry="2.1"/><ellipse cx="416.5" cy="173.5" rx="1.95" ry="2.1"/><ellipse cx="409.9" cy="177.6" rx="1.95" ry="2.1"/><ellipse cx="413" cy="181.6" rx="1.95" ry="2.1"/><ellipse cx="408.4" cy="185" rx="1.95" ry="2.1"/><ellipse cx="414" cy="189.4" rx="1.95" ry="2.1"/><ellipse cx="424.7" cy="175.8" rx="1.95" ry="2.1"/><ellipse cx="425.2" cy="178.9" rx="1.95" ry="2.1"/><ellipse cx="430.3" cy="175.1" rx="1.95" ry="2.1"/><ellipse cx="434.9" cy="173.3" rx="1.95" ry="2.1"/><ellipse cx="434.4" cy="176.5" rx="1.95" ry="2.1"/><ellipse cx="428.3" cy="184.5" rx="1.95" ry="2.1"/><ellipse cx="427.2" cy="186.3" rx="1.95" ry="2.1"/><ellipse cx="430.8" cy="189.4" rx="1.95" ry="2.1"/><ellipse cx="443.1" cy="173.3" rx="1.95" ry="2.1"/><ellipse cx="444.6" cy="175.8" rx="1.95" ry="2.1"/><ellipse cx="441" cy="181.6" rx="1.95" ry="2.1"/><ellipse cx="439.5" cy="184" rx="1.95" ry="2.1"/><ellipse cx="438.5" cy="185.5" rx="1.95" ry="2.1"/><ellipse cx="449.2" cy="187" rx="1.95" ry="2.1"/><ellipse cx="448.7" cy="190.6" rx="1.95" ry="2.1"/><ellipse cx="453.2" cy="175.1" rx="1.95" ry="2.1"/><ellipse cx="465.5" cy="167.8" rx="1.95" ry="2.1"/><ellipse cx="460.1" cy="178.5" rx="1.95" ry="2.1"/><ellipse cx="450.3" cy="186.9" rx="1.95" ry="2.1"/><ellipse cx="455.5" cy="184.2" rx="1.95" ry="2.1"/><ellipse cx="478.1" cy="172" rx="1.95" ry="2.1"/><ellipse cx="477.6" cy="182" rx="1.95" ry="2.1"/><ellipse cx="473.3" cy="182.8" rx="1.95" ry="2.1"/><ellipse cx="468.7" cy="189.2" rx="1.95" ry="2.1"/><ellipse cx="493.3" cy="168.5" rx="1.95" ry="2.1"/></g>
<g fill="#f76416"><ellipse cx="567.4" cy="209.5" rx="1.95" ry="2.1"/><ellipse cx="574.5" cy="209.8" rx="1.95" ry="2.1"/><ellipse cx="572.1" cy="213.2" rx="1.95" ry="2.1"/><ellipse cx="569.6" cy="215.3" rx="1.95" ry="2.1"/><ellipse cx="567.2" cy="217.1" rx="1.95" ry="2.1"/><ellipse cx="565.3" cy="218.4" rx="1.95" ry="2.1"/><ellipse cx="559.6" cy="213.7" rx="1.95" ry="2.1"/><ellipse cx="557.4" cy="215.9" rx="1.95" ry="2.1"/><ellipse cx="546.4" cy="216.5" rx="1.95" ry="2.1"/><ellipse cx="561.7" cy="218.4" rx="1.95" ry="2.1"/><ellipse cx="557.4" cy="219.6" rx="1.95" ry="2.1"/><ellipse cx="576.3" cy="218.1" rx="1.95" ry="2.1"/><ellipse cx="575.7" cy="221.4" rx="1.95" ry="2.1"/><ellipse cx="575.1" cy="222.6" rx="1.95" ry="2.1"/><ellipse cx="552.5" cy="219" rx="1.95" ry="2.1"/><ellipse cx="539" cy="220.8" rx="1.95" ry="2.1"/><ellipse cx="541.5" cy="221.4" rx="1.95" ry="2.1"/><ellipse cx="548.8" cy="222" rx="1.95" ry="2.1"/><ellipse cx="551.3" cy="221.4" rx="1.95" ry="2.1"/><ellipse cx="553.7" cy="221.8" rx="1.95" ry="2.1"/><ellipse cx="558.6" cy="221.4" rx="1.95" ry="2.1"/><ellipse cx="565.3" cy="221.4" rx="1.95" ry="2.1"/><ellipse cx="570.2" cy="222" rx="1.95" ry="2.1"/><ellipse cx="547.6" cy="223.9" rx="1.95" ry="2.1"/><ellipse cx="550.6" cy="223.9" rx="1.95" ry="2.1"/><ellipse cx="553.1" cy="224.5" rx="1.95" ry="2.1"/><ellipse cx="559.8" cy="225.1" rx="1.95" ry="2.1"/><ellipse cx="567.8" cy="225.5" rx="1.95" ry="2.1"/><ellipse cx="570.2" cy="226.7" rx="1.95" ry="2.1"/><ellipse cx="535.3" cy="225.7" rx="1.95" ry="2.1"/><ellipse cx="531.1" cy="226.3" rx="1.95" ry="2.1"/><ellipse cx="545.7" cy="226.9" rx="1.95" ry="2.1"/><ellipse cx="549.4" cy="226.3" rx="1.95" ry="2.1"/><ellipse cx="530.4" cy="228.4" rx="1.95" ry="2.1"/><ellipse cx="543.9" cy="228.4" rx="1.95" ry="2.1"/><ellipse cx="556.2" cy="228.4" rx="1.95" ry="2.1"/><ellipse cx="534.1" cy="230.6" rx="1.95" ry="2.1"/><ellipse cx="546.4" cy="230.6" rx="1.95" ry="2.1"/><ellipse cx="539.6" cy="231.2" rx="1.95" ry="2.1"/><ellipse cx="537.2" cy="232.4" rx="1.95" ry="2.1"/><ellipse cx="532.9" cy="233" rx="1.95" ry="2.1"/><ellipse cx="540.9" cy="233.3" rx="1.95" ry="2.1"/><ellipse cx="544.5" cy="232.4" rx="1.95" ry="2.1"/><ellipse cx="533.5" cy="235.5" rx="1.95" ry="2.1"/><ellipse cx="536.6" cy="234.9" rx="1.95" ry="2.1"/><ellipse cx="577.3" cy="184.9" rx="1.95" ry="2.1"/><ellipse cx="579.6" cy="185.3" rx="1.95" ry="2.1"/><ellipse cx="581.5" cy="186.8" rx="1.95" ry="2.1"/><ellipse cx="583.4" cy="183.8" rx="1.95" ry="2.1"/><ellipse cx="585.7" cy="181.9" rx="1.95" ry="2.1"/><ellipse cx="594.1" cy="180.7" rx="1.95" ry="2.1"/><ellipse cx="598" cy="179" rx="1.95" ry="2.1"/><ellipse cx="599.5" cy="182.3" rx="1.95" ry="2.1"/><ellipse cx="600.6" cy="184.2" rx="1.95" ry="2.1"/><ellipse cx="594.5" cy="185.7" rx="1.95" ry="2.1"/><ellipse cx="596.4" cy="186.1" rx="1.95" ry="2.1"/><ellipse cx="604.5" cy="181.1" rx="1.95" ry="2.1"/><ellipse cx="604.8" cy="184.5" rx="1.95" ry="2.1"/><ellipse cx="608.3" cy="180.7" rx="1.95" ry="2.1"/><ellipse cx="608.3" cy="183" rx="1.95" ry="2.1"/><ellipse cx="611" cy="180.7" rx="1.95" ry="2.1"/><ellipse cx="612.9" cy="179.6" rx="1.95" ry="2.1"/><ellipse cx="614" cy="185.3" rx="1.95" ry="2.1"/><ellipse cx="619" cy="182.6" rx="1.95" ry="2.1"/><ellipse cx="622.7" cy="186.1" rx="1.95" ry="2.1"/><ellipse cx="625" cy="182.9" rx="1.95" ry="2.1"/><ellipse cx="630" cy="180.6" rx="1.95" ry="2.1"/><ellipse cx="634.8" cy="182.9" rx="1.95" ry="2.1"/><ellipse cx="638.3" cy="182.9" rx="1.95" ry="2.1"/><ellipse cx="642.7" cy="184.2" rx="1.95" ry="2.1"/><ellipse cx="647.5" cy="180.6" rx="1.95" ry="2.1"/><ellipse cx="647.8" cy="184.7" rx="1.95" ry="2.1"/><ellipse cx="663.1" cy="180.9" rx="1.95" ry="2.1"/><ellipse cx="565.4" cy="181.3" rx="1.95" ry="2.1"/><ellipse cx="593.3" cy="214.5" rx="1.95" ry="2.1"/></g>
<g fill="#8dd232"><ellipse cx="398.3" cy="328.5" rx="1.95" ry="2.1"/><ellipse cx="402.8" cy="328.5" rx="1.95" ry="2.1"/><ellipse cx="405.5" cy="332.5" rx="1.95" ry="2.1"/><ellipse cx="406.1" cy="334.4" rx="1.95" ry="2.1"/><ellipse cx="400.5" cy="332.3" rx="1.95" ry="2.1"/><ellipse cx="396.8" cy="333.1" rx="1.95" ry="2.1"/><ellipse cx="390.3" cy="331.9" rx="1.95" ry="2.1"/><ellipse cx="388.6" cy="334.4" rx="1.95" ry="2.1"/><ellipse cx="376.8" cy="336.3" rx="1.95" ry="2.1"/><ellipse cx="384.9" cy="336.3" rx="1.95" ry="2.1"/><ellipse cx="389.9" cy="336.3" rx="1.95" ry="2.1"/><ellipse cx="399.3" cy="337.5" rx="1.95" ry="2.1"/><ellipse cx="405.5" cy="338.1" rx="1.95" ry="2.1"/><ellipse cx="390.5" cy="338.8" rx="1.95" ry="2.1"/><ellipse cx="380.5" cy="339.4" rx="1.95" ry="2.1"/><ellipse cx="383" cy="339" rx="1.95" ry="2.1"/><ellipse cx="387.4" cy="339.4" rx="1.95" ry="2.1"/><ellipse cx="392.4" cy="339" rx="1.95" ry="2.1"/><ellipse cx="400.5" cy="339.4" rx="1.95" ry="2.1"/><ellipse cx="378.6" cy="341.3" rx="1.95" ry="2.1"/><ellipse cx="382.4" cy="341.3" rx="1.95" ry="2.1"/><ellipse cx="386.1" cy="340.6" rx="1.95" ry="2.1"/><ellipse cx="395.5" cy="341.9" rx="1.95" ry="2.1"/><ellipse cx="401.1" cy="341.9" rx="1.95" ry="2.1"/><ellipse cx="362.4" cy="341.9" rx="1.95" ry="2.1"/><ellipse cx="370.5" cy="341.9" rx="1.95" ry="2.1"/><ellipse cx="372.4" cy="341.3" rx="1.95" ry="2.1"/><ellipse cx="369.3" cy="343.8" rx="1.95" ry="2.1"/><ellipse cx="377.4" cy="343.8" rx="1.95" ry="2.1"/><ellipse cx="379.9" cy="343.8" rx="1.95" ry="2.1"/><ellipse cx="384.3" cy="343.8" rx="1.95" ry="2.1"/><ellipse cx="387.4" cy="343.8" rx="1.95" ry="2.1"/><ellipse cx="398" cy="345" rx="1.95" ry="2.1"/><ellipse cx="400.5" cy="346.3" rx="1.95" ry="2.1"/><ellipse cx="361.1" cy="345" rx="1.95" ry="2.1"/><ellipse cx="371.1" cy="346" rx="1.95" ry="2.1"/><ellipse cx="376.1" cy="345.6" rx="1.95" ry="2.1"/><ellipse cx="381.8" cy="345.6" rx="1.95" ry="2.1"/><ellipse cx="360.5" cy="347.5" rx="1.95" ry="2.1"/><ellipse cx="366.1" cy="347.8" rx="1.95" ry="2.1"/><ellipse cx="375.5" cy="347.5" rx="1.95" ry="2.1"/><ellipse cx="377.4" cy="349" rx="1.95" ry="2.1"/><ellipse cx="374.9" cy="350" rx="1.95" ry="2.1"/><ellipse cx="363.6" cy="351.9" rx="1.95" ry="2.1"/><ellipse cx="367.4" cy="351.5" rx="1.95" ry="2.1"/><ellipse cx="370.5" cy="351.9" rx="1.95" ry="2.1"/><ellipse cx="364.9" cy="353.8" rx="1.95" ry="2.1"/><ellipse cx="366.8" cy="354.4" rx="1.95" ry="2.1"/><ellipse cx="371.8" cy="353.8" rx="1.95" ry="2.1"/><ellipse cx="363" cy="358.8" rx="1.95" ry="2.1"/><ellipse cx="383" cy="344" rx="1.95" ry="2.1"/><ellipse cx="386" cy="342" rx="1.95" ry="2.1"/><ellipse cx="380" cy="347" rx="1.95" ry="2.1"/><ellipse cx="393" cy="337" rx="1.95" ry="2.1"/><ellipse cx="396" cy="339.5" rx="1.95" ry="2.1"/><ellipse cx="364" cy="349" rx="1.95" ry="2.1"/><ellipse cx="369" cy="349.5" rx="1.95" ry="2.1"/><ellipse cx="396.2" cy="300.8" rx="1.95" ry="2.1"/><ellipse cx="408.1" cy="299.8" rx="1.95" ry="2.1"/><ellipse cx="410.6" cy="300.2" rx="1.95" ry="2.1"/><ellipse cx="413" cy="299.4" rx="1.95" ry="2.1"/><ellipse cx="414.7" cy="299" rx="1.95" ry="2.1"/><ellipse cx="416.3" cy="301" rx="1.95" ry="2.1"/><ellipse cx="424.5" cy="299.4" rx="1.95" ry="2.1"/><ellipse cx="425.4" cy="301.4" rx="1.95" ry="2.1"/><ellipse cx="427.4" cy="299" rx="1.95" ry="2.1"/><ellipse cx="430.3" cy="300.2" rx="1.95" ry="2.1"/><ellipse cx="433.6" cy="300.6" rx="1.95" ry="2.1"/><ellipse cx="435.6" cy="301.4" rx="1.95" ry="2.1"/><ellipse cx="438.5" cy="300.6" rx="1.95" ry="2.1"/><ellipse cx="441" cy="301" rx="1.95" ry="2.1"/><ellipse cx="443.5" cy="300.2" rx="1.95" ry="2.1"/><ellipse cx="449.3" cy="299.6" rx="1.95" ry="2.1"/><ellipse cx="451" cy="300.9" rx="1.95" ry="2.1"/><ellipse cx="453.5" cy="300.1" rx="1.95" ry="2.1"/><ellipse cx="455.6" cy="300.9" rx="1.95" ry="2.1"/><ellipse cx="460.2" cy="300.9" rx="1.95" ry="2.1"/><ellipse cx="465.2" cy="298.4" rx="1.95" ry="2.1"/><ellipse cx="468.5" cy="300.9" rx="1.95" ry="2.1"/><ellipse cx="473.1" cy="299.6" rx="1.95" ry="2.1"/><ellipse cx="477.7" cy="301.3" rx="1.95" ry="2.1"/><ellipse cx="493.2" cy="301.1" rx="1.95" ry="2.1"/><ellipse cx="424" cy="336.7" rx="1.95" ry="2.1"/></g>
<g fill="#f7a718"><ellipse cx="565.3" cy="318.1" rx="1.95" ry="2.1"/><ellipse cx="567.2" cy="330.7" rx="1.95" ry="2.1"/><ellipse cx="570.2" cy="332.1" rx="1.95" ry="2.1"/><ellipse cx="573.3" cy="331.5" rx="1.95" ry="2.1"/><ellipse cx="575.7" cy="330.3" rx="1.95" ry="2.1"/><ellipse cx="575.1" cy="334.6" rx="1.95" ry="2.1"/><ellipse cx="575.1" cy="335.8" rx="1.95" ry="2.1"/><ellipse cx="565.3" cy="334" rx="1.95" ry="2.1"/><ellipse cx="569" cy="336.1" rx="1.95" ry="2.1"/><ellipse cx="568.4" cy="338.9" rx="1.95" ry="2.1"/><ellipse cx="569.6" cy="341" rx="1.95" ry="2.1"/><ellipse cx="565.3" cy="338.9" rx="1.95" ry="2.1"/><ellipse cx="559.2" cy="336.4" rx="1.95" ry="2.1"/><ellipse cx="558" cy="338.3" rx="1.95" ry="2.1"/><ellipse cx="560.4" cy="340.1" rx="1.95" ry="2.1"/><ellipse cx="553.7" cy="340.7" rx="1.95" ry="2.1"/><ellipse cx="555.5" cy="342.5" rx="1.95" ry="2.1"/><ellipse cx="551.9" cy="343.2" rx="1.95" ry="2.1"/><ellipse cx="546.4" cy="343.2" rx="1.95" ry="2.1"/><ellipse cx="549.4" cy="344.4" rx="1.95" ry="2.1"/><ellipse cx="554.9" cy="345" rx="1.95" ry="2.1"/><ellipse cx="545.1" cy="346.2" rx="1.95" ry="2.1"/><ellipse cx="551.3" cy="347.1" rx="1.95" ry="2.1"/><ellipse cx="540.9" cy="347.4" rx="1.95" ry="2.1"/><ellipse cx="547" cy="348" rx="1.95" ry="2.1"/><ellipse cx="544.5" cy="350.5" rx="1.95" ry="2.1"/><ellipse cx="538.4" cy="349.3" rx="1.95" ry="2.1"/><ellipse cx="540.2" cy="351.1" rx="1.95" ry="2.1"/><ellipse cx="535.3" cy="351.1" rx="1.95" ry="2.1"/><ellipse cx="530.4" cy="352.3" rx="1.95" ry="2.1"/><ellipse cx="533.5" cy="353.6" rx="1.95" ry="2.1"/><ellipse cx="537.2" cy="354.2" rx="1.95" ry="2.1"/><ellipse cx="531.1" cy="355.4" rx="1.95" ry="2.1"/><ellipse cx="540.2" cy="354.2" rx="1.95" ry="2.1"/><ellipse cx="532.9" cy="358.5" rx="1.95" ry="2.1"/><ellipse cx="567" cy="336" rx="1.95" ry="2.1"/><ellipse cx="571" cy="338" rx="1.95" ry="2.1"/><ellipse cx="566" cy="341" rx="1.95" ry="2.1"/><ellipse cx="572" cy="334" rx="1.95" ry="2.1"/><ellipse cx="562" cy="338" rx="1.95" ry="2.1"/><ellipse cx="556" cy="341" rx="1.95" ry="2.1"/><ellipse cx="549" cy="346" rx="1.95" ry="2.1"/><ellipse cx="543" cy="349" rx="1.95" ry="2.1"/><ellipse cx="537" cy="352" rx="1.95" ry="2.1"/><ellipse cx="534" cy="350" rx="1.95" ry="2.1"/><ellipse cx="662.6" cy="282.7" rx="1.95" ry="2.1"/><ellipse cx="647.3" cy="287.9" rx="1.95" ry="2.1"/><ellipse cx="642.4" cy="289.4" rx="1.95" ry="2.1"/><ellipse cx="637.8" cy="291.4" rx="1.95" ry="2.1"/><ellipse cx="634.7" cy="292.5" rx="1.95" ry="2.1"/><ellipse cx="629.4" cy="294" rx="1.95" ry="2.1"/><ellipse cx="624" cy="296.4" rx="1.95" ry="2.1"/><ellipse cx="621" cy="297.1" rx="1.95" ry="2.1"/><ellipse cx="618.6" cy="298.3" rx="1.95" ry="2.1"/><ellipse cx="613.3" cy="300.1" rx="1.95" ry="2.1"/><ellipse cx="610.2" cy="301.3" rx="1.95" ry="2.1"/><ellipse cx="607.2" cy="302.1" rx="1.95" ry="2.1"/><ellipse cx="604.1" cy="304.1" rx="1.95" ry="2.1"/><ellipse cx="599.5" cy="305.2" rx="1.95" ry="2.1"/><ellipse cx="596.4" cy="305.9" rx="1.95" ry="2.1"/><ellipse cx="593.4" cy="307.5" rx="1.95" ry="2.1"/><ellipse cx="585" cy="310.5" rx="1.95" ry="2.1"/><ellipse cx="581.9" cy="312.1" rx="1.95" ry="2.1"/><ellipse cx="578.1" cy="313.6" rx="1.95" ry="2.1"/><ellipse cx="577.3" cy="313.5" rx="1.95" ry="2.1"/><ellipse cx="579.6" cy="312.6" rx="1.95" ry="2.1"/><ellipse cx="581.8" cy="311.7" rx="1.95" ry="2.1"/><ellipse cx="585.4" cy="310.8" rx="1.95" ry="2.1"/><ellipse cx="593.2" cy="324.8" rx="1.95" ry="2.1"/></g>
<path d="M21.5 23.5H161.5V124.5" fill="none" stroke="#a6a6a6" stroke-width="1.25"/>
<path d="M21.5 23.5V124.5H161.5" fill="none" stroke="#999999" stroke-width="1.25"/>
<path d="M19.5 124.5H21.5M21.5 124.5V126.5M19.5 110.1H21.5M41.5 124.5V126.5M19.5 95.6H21.5M61.5 124.5V126.5M19.5 81.2H21.5M81.5 124.5V126.5M19.5 66.8H21.5M101.5 124.5V126.5M19.5 52.4H21.5M121.5 124.5V126.5M19.5 37.9H21.5M141.5 124.5V126.5M19.5 23.5H21.5M161.5 124.5V126.5" stroke="#8f8f8f" stroke-width="0.9"/>
<path d="M176.5 23.5H315.5V125.5" fill="none" stroke="#a6a6a6" stroke-width="1.25"/>
<path d="M176.5 23.5V125.5H315.5" fill="none" stroke="#999999" stroke-width="1.25"/>
<path d="M174.5 125.5H176.5M176.5 125.5V127.5M174.5 110.9H176.5M196.4 125.5V127.5M174.5 96.4H176.5M216.2 125.5V127.5M174.5 81.8H176.5M236.1 125.5V127.5M174.5 67.2H176.5M255.9 125.5V127.5M174.5 52.6H176.5M275.8 125.5V127.5M174.5 38.1H176.5M295.6 125.5V127.5M174.5 23.5H176.5M315.5 125.5V127.5" stroke="#8f8f8f" stroke-width="0.9"/>
<path d="M21.5 149.5H161.5V250.5" fill="none" stroke="#a6a6a6" stroke-width="1.25"/>
<path d="M21.5 149.5V250.5H161.5" fill="none" stroke="#999999" stroke-width="1.25"/>
<path d="M19.5 250.5H21.5M21.5 250.5V252.5M19.5 236.1H21.5M41.5 250.5V252.5M19.5 221.6H21.5M61.5 250.5V252.5M19.5 207.2H21.5M81.5 250.5V252.5M19.5 192.8H21.5M101.5 250.5V252.5M19.5 178.4H21.5M121.5 250.5V252.5M19.5 163.9H21.5M141.5 250.5V252.5M19.5 149.5H21.5M161.5 250.5V252.5" stroke="#8f8f8f" stroke-width="0.9"/>
<path d="M178.5 150.5H316.5V250.5" fill="none" stroke="#a6a6a6" stroke-width="1.25"/>
<path d="M178.5 150.5V250.5H316.5" fill="none" stroke="#999999" stroke-width="1.25"/>
<path d="M176.5 250.5H178.5M178.5 250.5V252.5M176.5 236.2H178.5M198.2 250.5V252.5M176.5 221.9H178.5M217.9 250.5V252.5M176.5 207.6H178.5M237.6 250.5V252.5M176.5 193.4H178.5M257.4 250.5V252.5M176.5 179.1H178.5M277.1 250.5V252.5M176.5 164.8H178.5M296.8 250.5V252.5M176.5 150.5H178.5M316.5 250.5V252.5" stroke="#8f8f8f" stroke-width="0.9"/>
<path d="M23.5 266.5H161.5V366.5" fill="none" stroke="#a6a6a6" stroke-width="1.25"/>
<path d="M23.5 266.5V366.5H161.5" fill="none" stroke="#999999" stroke-width="1.25"/>
<path d="M21.5 366.5H23.5M23.5 366.5V368.5M21.5 352.2H23.5M43.2 366.5V368.5M21.5 337.9H23.5M62.9 366.5V368.5M21.5 323.6H23.5M82.6 366.5V368.5M21.5 309.4H23.5M102.4 366.5V368.5M21.5 295.1H23.5M122.1 366.5V368.5M21.5 280.8H23.5M141.8 366.5V368.5M21.5 266.5H23.5M161.5 366.5V368.5" stroke="#8f8f8f" stroke-width="0.9"/>
<path d="M176.5 267.5H315.5V366.5" fill="none" stroke="#a6a6a6" stroke-width="1.25"/>
<path d="M176.5 267.5V366.5H315.5" fill="none" stroke="#999999" stroke-width="1.25"/>
<path d="M174.5 366.5H176.5M176.5 366.5V368.5M174.5 352.4H176.5M196.4 366.5V368.5M174.5 338.2H176.5M216.2 366.5V368.5M174.5 324.1H176.5M236.1 366.5V368.5M174.5 309.9H176.5M255.9 366.5V368.5M174.5 295.8H176.5M275.8 366.5V368.5M174.5 281.6H176.5M295.6 366.5V368.5M174.5 267.5H176.5M315.5 366.5V368.5" stroke="#8f8f8f" stroke-width="0.9"/>
<path d="M358.5 22.5H498.5V124.5" fill="none" stroke="#a6a6a6" stroke-width="1.25"/>
<path d="M358.5 22.5V124.5H498.5" fill="none" stroke="#999999" stroke-width="1.25"/>
<path d="M356.5 124.5H358.5M358.5 124.5V126.5M356.5 109.9H358.5M378.5 124.5V126.5M356.5 95.4H358.5M398.5 124.5V126.5M356.5 80.8H358.5M418.5 124.5V126.5M356.5 66.2H358.5M438.5 124.5V126.5M356.5 51.6H358.5M458.5 124.5V126.5M356.5 37.1H358.5M478.5 124.5V126.5M356.5 22.5H358.5M498.5 124.5V126.5" stroke="#8f8f8f" stroke-width="0.9"/>
<path d="M526.5 19.5H666.5V121.5" fill="none" stroke="#a6a6a6" stroke-width="1.25"/>
<path d="M526.5 19.5V121.5H666.5" fill="none" stroke="#999999" stroke-width="1.25"/>
<path d="M524.5 121.5H526.5M526.5 121.5V123.5M524.5 106.9H526.5M546.5 121.5V123.5M524.5 92.4H526.5M566.5 121.5V123.5M524.5 77.8H526.5M586.5 121.5V123.5M524.5 63.2H526.5M606.5 121.5V123.5M524.5 48.6H526.5M626.5 121.5V123.5M524.5 34.1H526.5M646.5 121.5V123.5M524.5 19.5H526.5M666.5 121.5V123.5" stroke="#8f8f8f" stroke-width="0.9"/>
<path d="M359.5 148.5H498.5V249.5" fill="none" stroke="#a6a6a6" stroke-width="1.25"/>
<path d="M359.5 148.5V249.5H498.5" fill="none" stroke="#999999" stroke-width="1.25"/>
<path d="M357.5 249.5H359.5M359.5 249.5V251.5M357.5 235.1H359.5M379.4 249.5V251.5M357.5 220.6H359.5M399.2 249.5V251.5M357.5 206.2H359.5M419.1 249.5V251.5M357.5 191.8H359.5M438.9 249.5V251.5M357.5 177.4H359.5M458.8 249.5V251.5M357.5 162.9H359.5M478.6 249.5V251.5M357.5 148.5H359.5M498.5 249.5V251.5" stroke="#8f8f8f" stroke-width="0.9"/>
<path d="M529.5 148.5H667.5V247.5" fill="none" stroke="#a6a6a6" stroke-width="1.25"/>
<path d="M529.5 148.5V247.5H667.5" fill="none" stroke="#999999" stroke-width="1.25"/>
<path d="M527.5 247.5H529.5M529.5 247.5V249.5M527.5 233.4H529.5M549.2 247.5V249.5M527.5 219.2H529.5M568.9 247.5V249.5M527.5 205.1H529.5M588.6 247.5V249.5M527.5 190.9H529.5M608.4 247.5V249.5M527.5 176.8H529.5M628.1 247.5V249.5M527.5 162.6H529.5M647.8 247.5V249.5M527.5 148.5H529.5M667.5 247.5V249.5" stroke="#8f8f8f" stroke-width="0.9"/>
<path d="M359.5 260.5H498.5V363.5" fill="none" stroke="#a6a6a6" stroke-width="1.25"/>
<path d="M359.5 260.5V363.5H498.5" fill="none" stroke="#999999" stroke-width="1.25"/>
<path d="M357.5 363.5H359.5M359.5 363.5V365.5M357.5 348.8H359.5M379.4 363.5V365.5M357.5 334.1H359.5M399.2 363.5V365.5M357.5 319.4H359.5M419.1 363.5V365.5M357.5 304.6H359.5M438.9 363.5V365.5M357.5 289.9H359.5M458.8 363.5V365.5M357.5 275.2H359.5M478.6 363.5V365.5M357.5 260.5H359.5M498.5 363.5V365.5" stroke="#8f8f8f" stroke-width="0.9"/>
<path d="M529.5 260.5H667.5V362.5" fill="none" stroke="#a6a6a6" stroke-width="1.25"/>
<path d="M529.5 260.5V362.5H667.5" fill="none" stroke="#999999" stroke-width="1.25"/>
<path d="M527.5 362.5H529.5M529.5 362.5V364.5M527.5 347.9H529.5M549.2 362.5V364.5M527.5 333.4H529.5M568.9 362.5V364.5M527.5 318.8H529.5M588.6 362.5V364.5M527.5 304.2H529.5M608.4 362.5V364.5M527.5 289.6H529.5M628.1 362.5V364.5M527.5 275.1H529.5M647.8 362.5V364.5M527.5 260.5H529.5M667.5 362.5V364.5" stroke="#8f8f8f" stroke-width="0.9"/>
<text x="99.5" y="103.5" font-size="10" font-weight="bold" textLength="33.7" lengthAdjust="spacingAndGlyphs"  fill="#000" stroke="#000" stroke-width="0.35">Logistic</text>
<text class="s" x="100.9" y="117.9" font-size="10.6" font-weight="bold" fill="#000" font-style="italic" stroke="#000" stroke-width="0.2">R</text>
<text class="s" x="109.0" y="114.2" font-size="7.5" font-weight="bold" fill="#000" stroke="#000" stroke-width="0.4">2</text>
<path d="M119.8 112.9h7.2v1.05h-7.2zM119.8 115.4h7.2v1.05h-7.2z" fill="#1a1a1a"/>
<text class="s" x="131.2" y="117.9" font-size="11" font-weight="bold" fill="#000" stroke="#000" stroke-width="0.2" textLength="23.6" lengthAdjust="spacingAndGlyphs">0. 77</text>
<text x="253.2" y="103.5" font-size="10" font-weight="bold" textLength="27.7" lengthAdjust="spacingAndGlyphs"  fill="#000" stroke="#000" stroke-width="0.35">HMRF</text>
<text class="s" x="252.6" y="117.9" font-size="10.6" font-weight="bold" fill="#000" font-style="italic" stroke="#000" stroke-width="0.2">R</text>
<text class="s" x="260.7" y="114.2" font-size="7.5" font-weight="bold" fill="#000" stroke="#000" stroke-width="0.4">2</text>
<path d="M271.5 112.9h7.2v1.05h-7.2zM271.5 115.4h7.2v1.05h-7.2z" fill="#1a1a1a"/>
<text class="s" x="282.9" y="117.9" font-size="11" font-weight="bold" fill="#000" stroke="#000" stroke-width="0.2" textLength="22.7" lengthAdjust="spacingAndGlyphs">0. 70</text>
<text x="100" y="229.6" font-size="10" font-weight="bold" textLength="48.2" lengthAdjust="spacingAndGlyphs"  fill="#000" stroke="#000" stroke-width="0.35">Histo-SVM</text>
<text class="s" x="102.0" y="244.1" font-size="10.6" font-weight="bold" fill="#000" font-style="italic" stroke="#000" stroke-width="0.2">R</text>
<text class="s" x="110.1" y="240.4" font-size="7.5" font-weight="bold" fill="#000" stroke="#000" stroke-width="0.4">2</text>
<path d="M120.9 239.1h7.2v1.05h-7.2zM120.9 241.5h7.2v1.05h-7.2z" fill="#1a1a1a"/>
<text class="s" x="132.3" y="244.1" font-size="11" font-weight="bold" fill="#000" stroke="#000" stroke-width="0.2" textLength="22.7" lengthAdjust="spacingAndGlyphs">0. 73</text>
<text x="252.9" y="231.1" font-size="10" font-weight="bold" textLength="23.0" lengthAdjust="spacingAndGlyphs"  fill="#000" stroke="#000" stroke-width="0.35">ATSA</text>
<text class="s" x="254.1" y="245.3" font-size="10.6" font-weight="bold" fill="#000" font-style="italic" stroke="#000" stroke-width="0.2">R</text>
<text class="s" x="262.2" y="241.6" font-size="7.5" font-weight="bold" fill="#000" stroke="#000" stroke-width="0.4">2</text>
<path d="M273.0 240.3h7.2v1.05h-7.2zM273.0 242.8h7.2v1.05h-7.2z" fill="#1a1a1a"/>
<text class="s" x="284.4" y="245.3" font-size="11" font-weight="bold" fill="#000" stroke="#000" stroke-width="0.2" textLength="23.2" lengthAdjust="spacingAndGlyphs">0. 77</text>
<text x="100" y="347.3" font-size="10" font-weight="bold" textLength="32.2" lengthAdjust="spacingAndGlyphs"  fill="#000" stroke="#000" stroke-width="0.35">RNNSA</text>
<text class="s" x="102.0" y="361.7" font-size="10.6" font-weight="bold" fill="#000" font-style="italic" stroke="#000" stroke-width="0.2">R</text>
<text class="s" x="110.1" y="358.0" font-size="7.5" font-weight="bold" fill="#000" stroke="#000" stroke-width="0.4">2</text>
<path d="M120.9 356.7h7.2v1.05h-7.2zM120.9 359.1h7.2v1.05h-7.2z" fill="#1a1a1a"/>
<text class="s" x="132.3" y="361.7" font-size="11" font-weight="bold" fill="#000" stroke="#000" stroke-width="0.2" textLength="22.7" lengthAdjust="spacingAndGlyphs">0. 79</text>
<text x="255" y="345.5" font-size="10" font-weight="bold" textLength="42.4" lengthAdjust="spacingAndGlyphs"  fill="#000" stroke="#000" stroke-width="0.35">HipoMap</text>
<text class="s" x="256.4" y="359.7" font-size="10.6" font-weight="bold" fill="#000" font-style="italic" stroke="#000" stroke-width="0.2">R</text>
<text class="s" x="264.5" y="356.0" font-size="7.5" font-weight="bold" fill="#000" stroke="#000" stroke-width="0.4">2</text>
<path d="M275.3 354.7h7.2v1.05h-7.2zM275.3 357.1h7.2v1.05h-7.2z" fill="#1a1a1a"/>
<text class="s" x="286.7" y="359.7" font-size="11" font-weight="bold" fill="#000" stroke="#000" stroke-width="0.2" textLength="23.3" lengthAdjust="spacingAndGlyphs">0. 97</text>
<text x="434.2" y="100" font-size="10" font-weight="bold" textLength="33.8" lengthAdjust="spacingAndGlyphs"  fill="#000" stroke="#000" stroke-width="0.35">Logistic</text>
<text class="s" x="435.9" y="114.7" font-size="10.6" font-weight="bold" fill="#000" font-style="italic" stroke="#000" stroke-width="0.2">R</text>
<text class="s" x="444.0" y="111.0" font-size="7.5" font-weight="bold" fill="#000" stroke="#000" stroke-width="0.4">2</text>
<path d="M454.8 109.7h7.2v1.05h-7.2zM454.8 112.2h7.2v1.05h-7.2z" fill="#1a1a1a"/>
<text class="s" x="466.2" y="114.7" font-size="11" font-weight="bold" fill="#000" stroke="#000" stroke-width="0.2" textLength="22.7" lengthAdjust="spacingAndGlyphs">0. 71</text>
<text x="602.4" y="100.1" font-size="10" font-weight="bold" textLength="27.5" lengthAdjust="spacingAndGlyphs"  fill="#000" stroke="#000" stroke-width="0.35">HMRF</text>
<text class="s" x="602.1" y="114.30000000000001" font-size="10.6" font-weight="bold" fill="#000" font-style="italic" stroke="#000" stroke-width="0.2">R</text>
<text class="s" x="610.1999999999999" y="110.6" font-size="7.5" font-weight="bold" fill="#000" stroke="#000" stroke-width="0.4">2</text>
<path d="M621.0 109.3h7.2v1.05h-7.2zM621.0 111.8h7.2v1.05h-7.2z" fill="#1a1a1a"/>
<text x="634.4" y="114.30000000000001" font-size="10.2" font-weight="bold" fill="#000" stroke="#000" stroke-width="0.3" textLength="17.6" lengthAdjust="spacingAndGlyphs">0.68</text>
<text x="441.4" y="230.9" font-size="10" font-weight="bold" textLength="48.4" lengthAdjust="spacingAndGlyphs"  fill="#000" stroke="#000" stroke-width="0.35">Histo-SVM</text>
<text class="s" x="443.5" y="245.1" font-size="10.6" font-weight="bold" fill="#000" font-style="italic" stroke="#000" stroke-width="0.2">R</text>
<text class="s" x="451.6" y="241.4" font-size="7.5" font-weight="bold" fill="#000" stroke="#000" stroke-width="0.4">2</text>
<path d="M462.4 240.1h7.2v1.05h-7.2zM462.4 242.5h7.2v1.05h-7.2z" fill="#1a1a1a"/>
<text class="s" x="473.8" y="245.1" font-size="11" font-weight="bold" fill="#000" stroke="#000" stroke-width="0.2" textLength="23.2" lengthAdjust="spacingAndGlyphs">0. 67</text>
<text x="607.5" y="230.7" font-size="10" font-weight="bold" textLength="22.6" lengthAdjust="spacingAndGlyphs"  fill="#000" stroke="#000" stroke-width="0.35">ATSA</text>
<text class="s" x="607.2" y="244.5" font-size="10.6" font-weight="bold" fill="#000" font-style="italic" stroke="#000" stroke-width="0.2">R</text>
<text class="s" x="615.3" y="240.8" font-size="7.5" font-weight="bold" fill="#000" stroke="#000" stroke-width="0.4">2</text>
<path d="M626.1 239.5h7.2v1.05h-7.2zM626.1 241.9h7.2v1.05h-7.2z" fill="#1a1a1a"/>
<text class="s" x="637.5" y="244.5" font-size="11" font-weight="bold" fill="#000" stroke="#000" stroke-width="0.2" textLength="22.7" lengthAdjust="spacingAndGlyphs">0. 78</text>
<text x="440.5" y="346.1" font-size="10" font-weight="bold" textLength="32.0" lengthAdjust="spacingAndGlyphs"  fill="#000" stroke="#000" stroke-width="0.35">RNNSA</text>
<text class="s" x="440.2" y="360.29999999999995" font-size="10.6" font-weight="bold" fill="#000" font-style="italic" stroke="#000" stroke-width="0.2">R</text>
<text class="s" x="448.3" y="356.6" font-size="7.5" font-weight="bold" fill="#000" stroke="#000" stroke-width="0.4">2</text>
<path d="M459.1 355.3h7.2v1.05h-7.2zM459.1 357.7h7.2v1.05h-7.2z" fill="#1a1a1a"/>
<text class="s" x="470.5" y="360.29999999999995" font-size="11" font-weight="bold" fill="#000" stroke="#000" stroke-width="0.2" textLength="22.3" lengthAdjust="spacingAndGlyphs">0. 79</text>
<text x="606.5" y="341.8" font-size="10" font-weight="bold" textLength="42.5" lengthAdjust="spacingAndGlyphs"  fill="#000" stroke="#000" stroke-width="0.35">HipoMap</text>
<text class="s" x="608.6" y="355.79999999999995" font-size="10.6" font-weight="bold" fill="#000" font-style="italic" stroke="#000" stroke-width="0.2">R</text>
<text class="s" x="616.6999999999999" y="352.1" font-size="7.5" font-weight="bold" fill="#000" stroke="#000" stroke-width="0.4">2</text>
<path d="M627.5 350.8h7.2v1.05h-7.2zM627.5 353.2h7.2v1.05h-7.2z" fill="#1a1a1a"/>
<text class="s" x="638.9" y="355.79999999999995" font-size="11" font-weight="bold" fill="#000" stroke="#000" stroke-width="0.2" textLength="23.1" lengthAdjust="spacingAndGlyphs">0. 94</text>
<text x="19.3" y="26.4" font-size="10.2" text-anchor="end" fill="#1a1a1a" stroke="#1a1a1a" stroke-width="0.2">70</text>
<text x="19.3" y="41.1" font-size="10.2" text-anchor="end" fill="#1a1a1a" stroke="#1a1a1a" stroke-width="0.2">60</text>
<text x="19.3" y="55.8" font-size="10.2" text-anchor="end" fill="#1a1a1a" stroke="#1a1a1a" stroke-width="0.2">50</text>
<text x="19.3" y="70.5" font-size="10.2" text-anchor="end" fill="#1a1a1a" stroke="#1a1a1a" stroke-width="0.2">40</text>
<text x="19.3" y="85.2" font-size="10.2" text-anchor="end" fill="#1a1a1a" stroke="#1a1a1a" stroke-width="0.2">30</text>
<text x="19.3" y="99.9" font-size="10.2" text-anchor="end" fill="#1a1a1a" stroke="#1a1a1a" stroke-width="0.2">20</text>
<text x="19.3" y="114.6" font-size="10.2" text-anchor="end" fill="#1a1a1a" stroke="#1a1a1a" stroke-width="0.2">10</text>
<text x="13.3" y="139.0" font-size="10.2" text-anchor="middle" fill="#1a1a1a" stroke="#1a1a1a" stroke-width="0.2">0</text>
<text x="42.4" y="139.0" font-size="10.2" text-anchor="middle" fill="#1a1a1a" stroke="#1a1a1a" stroke-width="0.2">10</text>
<text x="61.9" y="139.0" font-size="10.2" text-anchor="middle" fill="#1a1a1a" stroke="#1a1a1a" stroke-width="0.2">20</text>
<text x="82" y="139.0" font-size="10.2" text-anchor="middle" fill="#1a1a1a" stroke="#1a1a1a" stroke-width="0.2">30</text>
<text x="102.4" y="139.0" font-size="10.2" text-anchor="middle" fill="#1a1a1a" stroke="#1a1a1a" stroke-width="0.2">40</text>
<text x="122.5" y="139.0" font-size="10.2" text-anchor="middle" fill="#1a1a1a" stroke="#1a1a1a" stroke-width="0.2">50</text>
<text x="143" y="139.0" font-size="10.2" text-anchor="middle" fill="#1a1a1a" stroke="#1a1a1a" stroke-width="0.2">60</text>
<text x="164.5" y="139.0" font-size="10.2" text-anchor="middle" fill="#1a1a1a" stroke="#1a1a1a" stroke-width="0.2">70</text>
<text x="352.3" y="29.1" font-size="10.2" text-anchor="end" fill="#1a1a1a" stroke="#1a1a1a" stroke-width="0.2">70</text>
<text x="352.3" y="43.7" font-size="10.2" text-anchor="end" fill="#1a1a1a" stroke="#1a1a1a" stroke-width="0.2">60</text>
<text x="352.3" y="58.3" font-size="10.2" text-anchor="end" fill="#1a1a1a" stroke="#1a1a1a" stroke-width="0.2">50</text>
<text x="352.3" y="72.9" font-size="10.2" text-anchor="end" fill="#1a1a1a" stroke="#1a1a1a" stroke-width="0.2">40</text>
<text x="352.3" y="87.5" font-size="10.2" text-anchor="end" fill="#1a1a1a" stroke="#1a1a1a" stroke-width="0.2">30</text>
<text x="352.3" y="102.1" font-size="10.2" text-anchor="end" fill="#1a1a1a" stroke="#1a1a1a" stroke-width="0.2">20</text>
<text x="352.3" y="116.7" font-size="10.2" text-anchor="end" fill="#1a1a1a" stroke="#1a1a1a" stroke-width="0.2">10</text>
<text x="352.4" y="138.7" font-size="10.2" text-anchor="middle" fill="#1a1a1a" stroke="#1a1a1a" stroke-width="0.2">0</text>
<text x="371.6" y="138.7" font-size="10.2" text-anchor="middle" fill="#1a1a1a" stroke="#1a1a1a" stroke-width="0.2">10</text>
<text x="391.7" y="138.7" font-size="10.2" text-anchor="middle" fill="#1a1a1a" stroke="#1a1a1a" stroke-width="0.2">20</text>
<text x="411.5" y="138.7" font-size="10.2" text-anchor="middle" fill="#1a1a1a" stroke="#1a1a1a" stroke-width="0.2">30</text>
<text x="431.6" y="138.7" font-size="10.2" text-anchor="middle" fill="#1a1a1a" stroke="#1a1a1a" stroke-width="0.2">40</text>
<text x="451.6" y="138.7" font-size="10.2" text-anchor="middle" fill="#1a1a1a" stroke="#1a1a1a" stroke-width="0.2">50</text>
<text x="472.3" y="138.7" font-size="10.2" text-anchor="middle" fill="#1a1a1a" stroke="#1a1a1a" stroke-width="0.2">60</text>
<text x="494.5" y="138.7" font-size="10.2" text-anchor="middle" fill="#1a1a1a" stroke="#1a1a1a" stroke-width="0.2">70</text>
<text x="10.3" y="9.0" font-size="10.2" fill="#1a1a1a" stroke="#1a1a1a" stroke-width="0.2">(A)</text>
<text x="342.4" y="8.8" font-size="9.2" fill="#1a1a1a" stroke="#1a1a1a" stroke-width="0.2">(B)</text>
<text transform="translate(11.2 208) rotate(-90)" font-size="10.5" fill="#222" textLength="58" lengthAdjust="spacingAndGlyphs">Prediction</text>
<text x="246.6" y="387.9" font-size="11.6" fill="#1a1a1a" textLength="180" lengthAdjust="spacingAndGlyphs">Ground Truth (Survival Months)</text>
</svg></body></html>
